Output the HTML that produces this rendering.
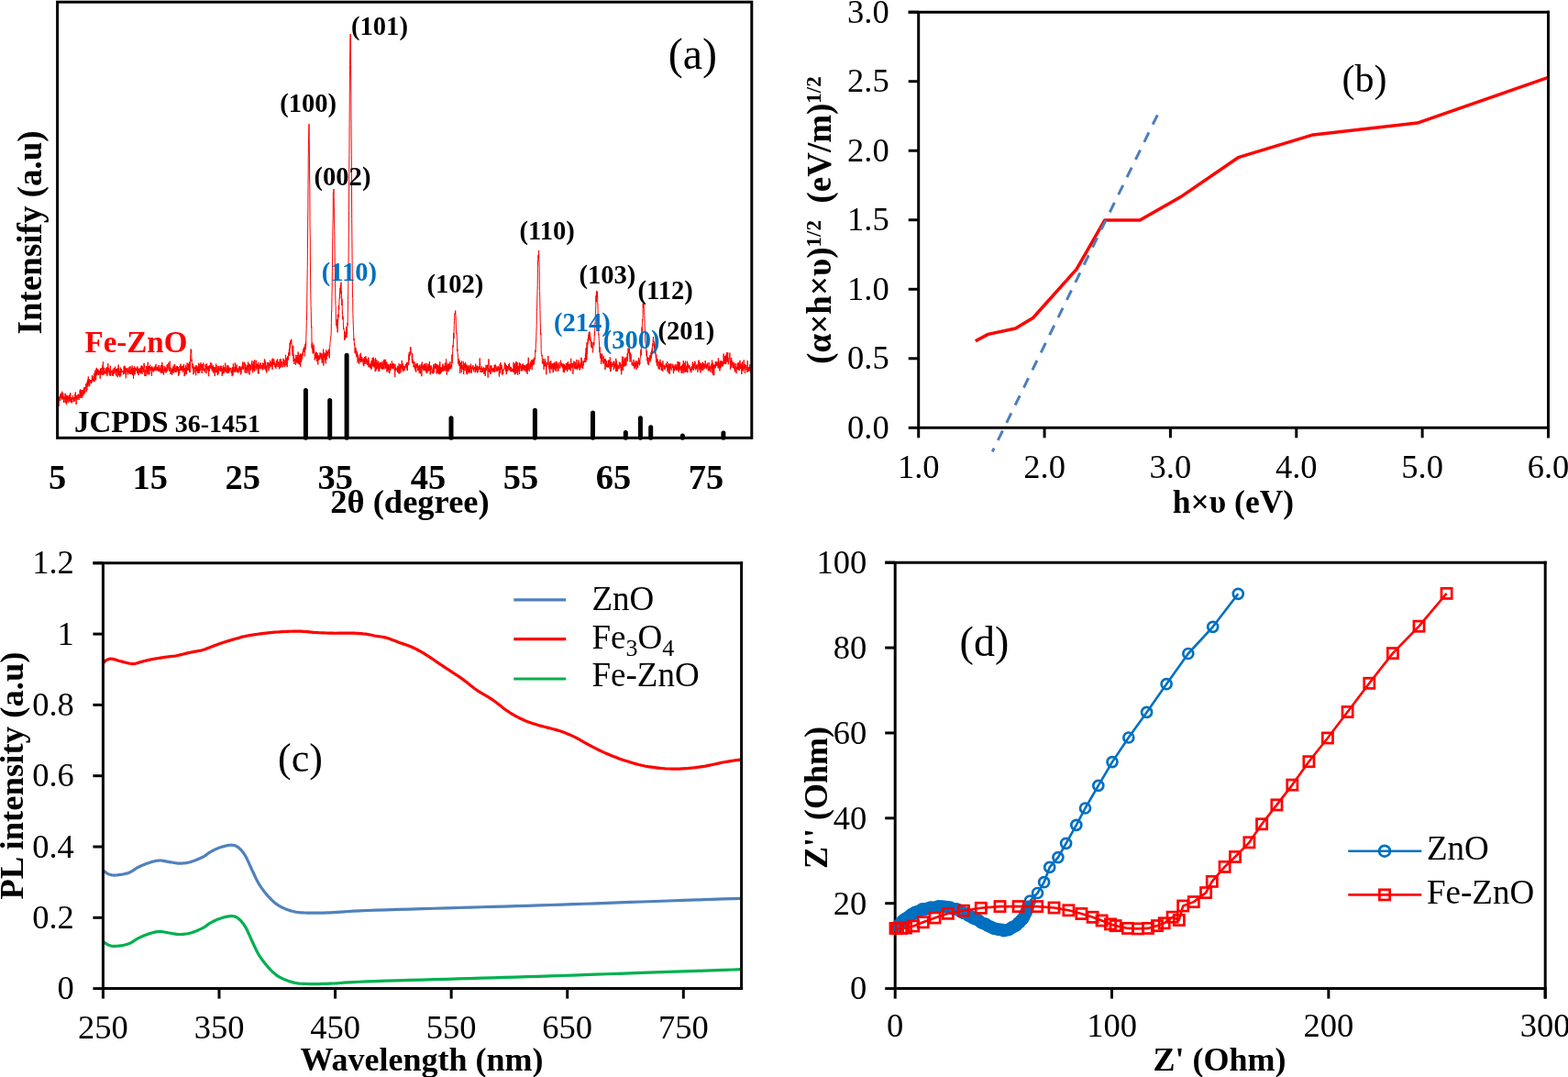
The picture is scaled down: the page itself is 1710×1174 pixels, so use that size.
<!DOCTYPE html>
<html><head><meta charset="utf-8"><title>Fe-ZnO characterization</title>
<style>html,body{margin:0;padding:0;background:#fff;overflow:hidden}svg{display:block}text{font-family:"Liberation Serif","Times New Roman",serif}</style>
</head><body>
<svg width="1710" height="1174" viewBox="0 0 1710 1174">
<rect width="1710" height="1174" fill="#fff"/>
<polyline points="62.60,434.97 62.80,435.92 63.00,434.07 63.20,432.09 63.40,433.48 63.60,431.75 63.80,435.12 64.00,442.84 64.19,433.34 64.39,432.92 64.59,436.48 64.79,436.05 64.99,435.23 65.19,431.90 65.39,434.79 65.59,437.11 65.79,430.56 65.99,433.40 66.19,428.76 66.39,430.72 66.59,428.94 66.79,434.09 66.98,430.77 67.18,435.70 67.38,435.33 67.58,434.22 67.78,426.74 67.98,433.08 68.18,434.65 68.38,435.16 68.58,429.88 68.78,428.56 68.98,431.64 69.18,432.18 69.38,438.18 69.58,432.18 69.78,439.06 69.97,437.59 70.17,432.88 70.37,434.39 70.57,435.09 70.77,434.94 70.97,430.80 71.17,428.75 71.37,439.08 71.57,429.75 71.77,437.46 71.97,435.08 72.17,432.64 72.37,441.11 72.57,437.13 72.77,430.83 72.96,434.91 73.16,436.52 73.36,434.06 73.56,431.53 73.76,434.44 73.96,436.79 74.16,439.26 74.36,432.47 74.56,435.28 74.76,433.14 74.96,435.03 75.16,430.80 75.36,432.75 75.56,433.97 75.75,437.48 75.95,438.27 76.15,430.34 76.35,432.03 76.55,436.65 76.75,428.17 76.95,433.07 77.15,434.24 77.35,438.59 77.55,436.76 77.75,433.49 77.95,433.35 78.15,433.73 78.35,439.41 78.55,433.14 78.74,433.54 78.94,435.64 79.14,434.11 79.34,433.86 79.54,430.91 79.74,434.45 79.94,433.05 80.14,438.18 80.34,436.49 80.54,434.26 80.74,436.44 80.94,433.15 81.14,437.57 81.34,434.12 81.53,435.96 81.73,429.90 81.93,435.11 82.13,428.52 82.33,427.36 82.53,432.87 82.73,430.90 82.93,434.27 83.13,440.90 83.33,430.97 83.53,431.59 83.73,434.20 83.93,435.08 84.13,432.88 84.33,432.73 84.52,435.60 84.72,434.96 84.92,429.93 85.12,432.94 85.32,433.26 85.52,429.71 85.72,433.88 85.92,430.24 86.12,435.98 86.32,433.28 86.52,432.74 86.72,430.36 86.92,431.68 87.12,425.45 87.32,428.03 87.51,432.63 87.71,424.43 87.91,433.78 88.11,425.26 88.31,433.09 88.51,427.75 88.71,432.77 88.91,430.49 89.11,424.93 89.31,433.68 89.51,434.10 89.71,429.06 89.91,428.19 90.11,428.29 90.30,425.34 90.50,431.66 90.70,426.06 90.90,427.31 91.10,424.59 91.30,424.80 91.50,422.37 91.70,430.18 91.90,425.31 92.10,428.58 92.30,425.19 92.50,422.58 92.70,423.43 92.90,422.35 93.10,423.84 93.29,422.28 93.49,422.19 93.69,418.39 93.89,419.90 94.09,427.46 94.29,419.67 94.49,418.11 94.69,422.24 94.89,425.34 95.09,415.83 95.29,419.49 95.49,417.80 95.69,413.84 95.89,421.52 96.09,418.79 96.28,410.51 96.48,415.95 96.68,419.58 96.88,416.14 97.08,417.16 97.28,413.81 97.48,413.22 97.68,421.16 97.88,415.00 98.08,417.31 98.28,416.02 98.48,414.46 98.68,414.00 98.88,417.40 99.07,414.08 99.27,414.39 99.47,414.70 99.67,418.16 99.87,416.32 100.07,415.11 100.27,411.83 100.47,408.95 100.67,416.18 100.87,415.99 101.07,412.19 101.27,414.13 101.47,414.65 101.67,414.56 101.87,414.60 102.06,409.93 102.26,416.01 102.46,406.89 102.66,413.41 102.86,411.98 103.06,412.95 103.26,415.93 103.46,414.41 103.66,405.72 103.86,403.73 104.06,411.57 104.26,405.58 104.46,408.70 104.66,414.27 104.85,403.27 105.05,401.67 105.25,409.18 105.45,400.86 105.65,407.36 105.85,408.17 106.05,405.18 106.25,402.99 106.45,407.21 106.65,404.53 106.85,402.27 107.05,409.07 107.25,407.15 107.45,408.55 107.65,403.97 107.84,404.94 108.04,403.74 108.24,404.00 108.44,407.38 108.64,404.14 108.84,407.69 109.04,407.54 109.24,412.85 109.44,401.78 109.64,409.00 109.84,405.76 110.04,405.91 110.24,401.20 110.44,404.28 110.64,408.04 110.83,405.29 111.03,405.71 111.23,404.42 111.43,408.96 111.63,405.09 111.83,397.99 112.03,402.73 112.23,398.53 112.43,394.32 112.63,402.95 112.83,408.84 113.03,404.62 113.23,400.71 113.43,401.46 113.62,408.11 113.82,404.99 114.02,404.65 114.22,404.32 114.42,404.62 114.62,407.09 114.82,406.28 115.02,405.20 115.22,401.17 115.42,406.16 115.62,402.33 115.82,408.04 116.02,405.61 116.22,404.09 116.42,404.52 116.61,400.29 116.81,410.08 117.01,409.24 117.21,403.07 117.41,407.04 117.61,405.78 117.81,396.18 118.01,405.38 118.21,404.38 118.41,404.85 118.61,401.13 118.81,403.72 119.01,404.02 119.21,408.41 119.40,405.68 119.60,404.59 119.80,409.52 120.00,402.83 120.20,403.37 120.40,398.79 120.60,409.67 120.80,407.73 121.00,407.58 121.20,406.79 121.40,405.00 121.60,405.34 121.80,403.84 122.00,404.00 122.20,404.83 122.39,409.52 122.59,406.45 122.79,404.48 122.99,402.82 123.19,402.64 123.39,409.83 123.59,406.32 123.79,404.91 123.99,403.58 124.19,401.14 124.39,404.49 124.59,407.51 124.79,403.45 124.99,403.99 125.19,404.01 125.38,405.08 125.58,399.61 125.78,403.98 125.98,401.99 126.18,407.58 126.38,402.27 126.58,406.60 126.78,409.65 126.98,403.75 127.18,402.83 127.38,405.38 127.58,404.76 127.78,401.58 127.98,406.26 128.17,411.26 128.37,403.96 128.57,404.14 128.77,401.44 128.97,405.82 129.17,397.54 129.37,401.25 129.57,408.92 129.77,401.91 129.97,408.29 130.17,409.72 130.37,405.66 130.57,406.61 130.77,411.11 130.97,404.21 131.16,405.97 131.36,400.50 131.56,404.99 131.76,409.61 131.96,407.94 132.16,402.98 132.36,402.12 132.56,403.25 132.76,405.82 132.96,404.22 133.16,405.57 133.36,405.84 133.56,403.93 133.76,404.77 133.95,405.56 134.15,404.64 134.35,406.53 134.55,408.27 134.75,406.82 134.95,405.10 135.15,399.51 135.35,406.18 135.55,398.68 135.75,400.41 135.95,407.69 136.15,407.21 136.35,404.47 136.55,399.46 136.75,403.77 136.94,402.78 137.14,407.00 137.34,412.20 137.54,405.64 137.74,402.43 137.94,401.16 138.14,404.73 138.34,404.34 138.54,401.20 138.74,405.26 138.94,401.18 139.14,408.44 139.34,408.28 139.54,408.34 139.74,403.32 139.93,406.49 140.13,404.40 140.33,403.57 140.53,403.72 140.73,400.63 140.93,400.16 141.13,407.34 141.33,404.16 141.53,405.46 141.73,407.98 141.93,399.18 142.13,402.22 142.33,405.30 142.53,405.98 142.72,403.51 142.92,408.01 143.12,405.38 143.32,400.79 143.52,401.69 143.72,407.26 143.92,406.15 144.12,398.56 144.32,408.98 144.52,406.56 144.72,408.95 144.92,403.39 145.12,403.66 145.32,400.99 145.52,412.75 145.71,404.02 145.91,409.68 146.11,402.49 146.31,405.09 146.51,399.18 146.71,403.31 146.91,407.70 147.11,400.51 147.31,407.96 147.51,405.59 147.71,401.15 147.91,402.88 148.11,403.01 148.31,404.32 148.51,402.74 148.70,401.80 148.90,403.47 149.10,401.14 149.30,400.29 149.50,404.27 149.70,407.25 149.90,399.49 150.10,404.41 150.30,402.30 150.50,401.24 150.70,407.11 150.90,402.70 151.10,409.17 151.30,401.84 151.49,405.58 151.69,403.60 151.89,401.90 152.09,406.20 152.29,403.81 152.49,406.23 152.69,404.13 152.89,400.79 153.09,403.94 153.29,404.43 153.49,407.33 153.69,401.33 153.89,404.11 154.09,398.69 154.29,406.31 154.48,400.73 154.68,398.40 154.88,404.00 155.08,407.74 155.28,399.28 155.48,400.67 155.68,401.77 155.88,400.52 156.08,402.33 156.28,401.54 156.48,401.80 156.68,405.99 156.88,401.68 157.08,395.76 157.27,400.97 157.47,400.18 157.67,398.17 157.87,410.04 158.07,403.02 158.27,404.83 158.47,403.94 158.67,404.54 158.87,404.18 159.07,410.14 159.27,400.66 159.47,398.99 159.67,400.73 159.87,399.69 160.07,406.37 160.26,406.59 160.46,400.86 160.66,399.47 160.86,402.79 161.06,408.39 161.26,394.85 161.46,405.60 161.66,400.44 161.86,407.23 162.06,400.42 162.26,402.95 162.46,399.02 162.66,400.71 162.86,408.30 163.06,406.47 163.25,402.54 163.45,401.02 163.65,397.73 163.85,402.54 164.05,403.69 164.25,403.52 164.45,403.48 164.65,400.16 164.85,403.55 165.05,403.63 165.25,407.89 165.45,409.73 165.65,399.28 165.85,401.25 166.04,403.50 166.24,401.75 166.44,401.30 166.64,403.49 166.84,400.32 167.04,405.61 167.24,403.32 167.44,404.45 167.64,403.05 167.84,401.29 168.04,400.57 168.24,402.85 168.44,401.84 168.64,404.35 168.84,403.57 169.03,399.20 169.23,403.79 169.43,399.24 169.63,401.57 169.83,402.60 170.03,396.86 170.23,403.82 170.43,404.00 170.63,403.00 170.83,402.14 171.03,402.29 171.23,400.34 171.43,402.61 171.63,401.69 171.82,403.75 172.02,399.58 172.22,404.19 172.42,403.88 172.62,402.95 172.82,401.98 173.02,405.16 173.22,398.02 173.42,404.84 173.62,404.12 173.82,404.24 174.02,404.55 174.22,401.20 174.42,402.46 174.62,405.33 174.81,404.65 175.01,403.92 175.21,398.37 175.41,404.95 175.61,406.97 175.81,406.44 176.01,403.94 176.21,398.17 176.41,406.19 176.61,402.67 176.81,394.99 177.01,404.33 177.21,398.31 177.41,398.93 177.61,401.04 177.80,407.16 178.00,401.86 178.20,403.91 178.40,408.65 178.60,408.14 178.80,402.67 179.00,402.21 179.20,398.92 179.40,400.73 179.60,404.32 179.80,404.21 180.00,403.28 180.20,406.11 180.40,400.41 180.59,402.70 180.79,405.22 180.99,404.74 181.19,406.29 181.39,404.11 181.59,401.82 181.79,403.97 181.99,399.57 182.19,397.51 182.39,404.63 182.59,402.58 182.79,403.73 182.99,397.27 183.19,401.54 183.39,400.77 183.58,399.91 183.78,395.42 183.98,401.58 184.18,401.11 184.38,403.86 184.58,400.69 184.78,402.56 184.98,405.03 185.18,393.71 185.38,402.17 185.58,404.30 185.78,404.74 185.98,408.00 186.18,406.17 186.37,403.51 186.57,403.46 186.77,405.01 186.97,400.73 187.17,402.32 187.37,405.35 187.57,408.72 187.77,401.90 187.97,402.24 188.17,403.02 188.37,406.69 188.57,402.26 188.77,407.07 188.97,399.22 189.17,401.72 189.36,401.67 189.56,404.82 189.76,405.64 189.96,397.41 190.16,399.31 190.36,403.32 190.56,400.11 190.76,397.32 190.96,405.54 191.16,403.78 191.36,403.76 191.56,400.63 191.76,405.46 191.96,401.36 192.16,405.65 192.35,399.18 192.55,399.35 192.75,402.74 192.95,399.81 193.15,404.23 193.35,402.88 193.55,399.06 193.75,402.25 193.95,400.87 194.15,404.94 194.35,399.94 194.55,409.80 194.75,405.85 194.95,409.14 195.14,408.36 195.34,402.14 195.54,402.64 195.74,406.87 195.94,401.53 196.14,398.79 196.34,402.31 196.54,403.39 196.74,399.27 196.94,396.64 197.14,397.31 197.34,404.07 197.54,399.49 197.74,401.48 197.94,402.62 198.13,403.92 198.33,400.86 198.53,403.54 198.73,399.07 198.93,400.77 199.13,398.64 199.33,405.57 199.53,401.84 199.73,399.55 199.93,400.80 200.13,401.22 200.33,404.18 200.53,396.80 200.73,398.59 200.93,400.71 201.12,410.08 201.32,405.00 201.52,401.57 201.72,404.22 201.92,408.55 202.12,401.18 202.32,406.46 202.52,398.01 202.72,403.52 202.92,404.09 203.12,400.29 203.32,408.12 203.52,407.43 203.72,403.75 203.91,404.13 204.11,395.41 204.31,403.98 204.51,401.30 204.71,403.32 204.91,404.12 205.11,400.83 205.31,396.49 205.51,403.11 205.71,399.54 205.91,400.86 206.11,399.98 206.31,400.82 206.51,394.46 206.71,405.74 206.90,402.36 207.10,404.48 207.30,405.89 207.50,396.74 207.70,386.63 207.90,385.19 208.10,380.40 208.30,381.40 208.50,384.85 208.70,381.37 208.90,393.89 209.10,391.59 209.30,400.33 209.50,400.49 209.69,400.52 209.89,401.57 210.09,400.15 210.29,399.94 210.49,396.50 210.69,401.83 210.89,407.86 211.09,408.29 211.29,406.17 211.49,404.19 211.69,399.74 211.89,406.56 212.09,401.74 212.29,401.70 212.49,400.98 212.68,402.22 212.88,400.52 213.08,401.65 213.28,398.43 213.48,400.72 213.68,409.26 213.88,401.69 214.08,401.15 214.28,403.63 214.48,404.20 214.68,398.33 214.88,401.25 215.08,404.87 215.28,402.78 215.48,402.31 215.67,406.92 215.87,399.73 216.07,402.18 216.27,400.24 216.47,406.71 216.67,395.63 216.87,399.76 217.07,400.21 217.27,404.05 217.47,403.87 217.67,406.40 217.87,396.85 218.07,404.33 218.27,400.97 218.46,399.77 218.66,403.65 218.86,398.95 219.06,395.23 219.26,400.72 219.46,397.09 219.66,399.82 219.86,403.11 220.06,402.91 220.26,407.02 220.46,401.27 220.66,396.97 220.86,399.48 221.06,398.95 221.26,397.99 221.45,403.31 221.65,399.83 221.85,395.54 222.05,404.15 222.25,401.55 222.45,403.06 222.65,402.25 222.85,403.94 223.05,402.03 223.25,405.89 223.45,403.27 223.65,403.17 223.85,403.22 224.05,397.22 224.24,401.37 224.44,401.07 224.64,402.57 224.84,397.53 225.04,407.17 225.24,402.24 225.44,398.00 225.64,396.40 225.84,401.00 226.04,401.61 226.24,399.59 226.44,402.20 226.64,399.84 226.84,403.68 227.04,399.57 227.23,401.78 227.43,405.05 227.63,410.18 227.83,398.65 228.03,400.40 228.23,399.19 228.43,404.42 228.63,398.20 228.83,400.34 229.03,401.80 229.23,398.75 229.43,398.81 229.63,400.36 229.83,395.13 230.03,397.24 230.22,400.57 230.42,402.39 230.62,401.32 230.82,396.22 231.02,400.44 231.22,404.52 231.42,403.74 231.62,401.71 231.82,399.11 232.02,404.01 232.22,400.12 232.42,398.23 232.62,399.42 232.82,406.67 233.01,402.73 233.21,405.76 233.41,400.49 233.61,405.06 233.81,400.11 234.01,401.55 234.21,410.07 234.41,404.54 234.61,400.47 234.81,401.81 235.01,403.15 235.21,406.00 235.41,400.54 235.61,396.51 235.81,401.23 236.00,402.19 236.20,402.50 236.40,406.39 236.60,403.18 236.80,404.79 237.00,398.63 237.20,404.98 237.40,408.94 237.60,404.69 237.80,407.52 238.00,402.71 238.20,407.98 238.40,399.24 238.60,401.88 238.79,403.73 238.99,404.65 239.19,400.85 239.39,403.26 239.59,401.38 239.79,402.67 239.99,401.87 240.19,398.62 240.39,402.24 240.59,405.14 240.79,399.21 240.99,401.56 241.19,404.48 241.39,398.90 241.59,402.95 241.78,398.95 241.98,406.03 242.18,409.83 242.38,408.91 242.58,401.69 242.78,404.79 242.98,402.80 243.18,402.75 243.38,407.42 243.58,398.18 243.78,405.84 243.98,402.29 244.18,407.00 244.38,403.07 244.58,400.31 244.77,403.38 244.97,404.86 245.17,403.82 245.37,404.08 245.57,400.83 245.77,395.64 245.97,405.43 246.17,404.79 246.37,403.02 246.57,402.77 246.77,405.90 246.97,401.09 247.17,400.30 247.37,401.98 247.56,406.43 247.76,398.13 247.96,406.45 248.16,400.55 248.36,399.07 248.56,406.69 248.76,402.33 248.96,398.45 249.16,401.50 249.36,405.66 249.56,406.51 249.76,401.30 249.96,404.00 250.16,405.00 250.36,400.62 250.55,403.85 250.75,402.61 250.95,400.99 251.15,401.14 251.35,402.96 251.55,402.84 251.75,400.93 251.95,401.39 252.15,406.36 252.35,403.47 252.55,405.64 252.75,406.67 252.95,404.70 253.15,410.13 253.35,400.15 253.54,405.43 253.74,401.81 253.94,408.82 254.14,408.31 254.34,396.50 254.54,399.65 254.74,404.90 254.94,405.28 255.14,405.08 255.34,402.45 255.54,404.13 255.74,404.74 255.94,400.15 256.14,405.90 256.33,395.27 256.53,404.59 256.73,399.18 256.93,405.59 257.13,401.73 257.33,399.58 257.53,403.63 257.73,399.46 257.93,399.43 258.13,397.29 258.33,402.24 258.53,403.91 258.73,405.58 258.93,401.80 259.13,405.61 259.32,402.27 259.52,401.88 259.72,406.59 259.92,405.55 260.12,401.01 260.32,401.30 260.52,401.55 260.72,402.31 260.92,399.11 261.12,405.31 261.32,400.68 261.52,403.44 261.72,399.26 261.92,403.06 262.11,403.14 262.31,400.49 262.51,408.35 262.71,403.00 262.91,407.52 263.11,404.85 263.31,399.59 263.51,400.47 263.71,403.09 263.91,401.86 264.11,401.80 264.31,400.69 264.51,395.75 264.71,400.84 264.91,394.38 265.10,402.72 265.30,399.15 265.50,399.16 265.70,400.74 265.90,402.30 266.10,396.77 266.30,395.73 266.50,397.91 266.70,394.73 266.90,398.18 267.10,406.41 267.30,402.29 267.50,403.33 267.70,396.77 267.90,402.15 268.09,400.12 268.29,400.94 268.49,402.95 268.69,406.76 268.89,401.69 269.09,401.44 269.29,397.87 269.49,402.87 269.69,400.17 269.89,403.63 270.09,400.77 270.29,406.52 270.49,394.46 270.69,399.88 270.88,403.67 271.08,399.66 271.28,398.21 271.48,399.89 271.68,396.26 271.88,401.08 272.08,408.56 272.28,404.35 272.48,397.04 272.68,397.78 272.88,399.27 273.08,403.80 273.28,397.87 273.48,398.27 273.68,403.34 273.87,403.25 274.07,399.22 274.27,396.79 274.47,395.37 274.67,398.10 274.87,393.12 275.07,402.73 275.27,398.25 275.47,401.82 275.67,406.28 275.87,404.00 276.07,396.46 276.27,402.97 276.47,403.88 276.66,397.70 276.86,393.72 277.06,399.71 277.26,394.86 277.46,404.77 277.66,392.21 277.86,396.39 278.06,399.07 278.26,399.18 278.46,400.43 278.66,400.74 278.86,399.15 279.06,403.49 279.26,392.87 279.46,399.77 279.65,397.43 279.85,400.15 280.05,400.41 280.25,396.72 280.45,397.58 280.65,402.19 280.85,400.74 281.05,397.38 281.25,406.16 281.45,407.01 281.65,394.79 281.85,400.47 282.05,407.60 282.25,401.99 282.45,400.15 282.64,398.74 282.84,397.64 283.04,398.68 283.24,397.56 283.44,401.73 283.64,398.01 283.84,397.85 284.04,395.36 284.24,399.07 284.44,396.32 284.64,398.60 284.84,402.54 285.04,400.33 285.24,400.76 285.43,400.25 285.63,399.27 285.83,398.64 286.03,398.03 286.23,401.47 286.43,395.47 286.63,403.31 286.83,399.05 287.03,396.49 287.23,397.31 287.43,396.68 287.63,399.37 287.83,396.50 288.03,402.51 288.23,396.25 288.42,391.40 288.62,396.37 288.82,392.20 289.02,398.56 289.22,402.10 289.42,400.74 289.62,394.29 289.82,396.13 290.02,404.34 290.22,399.58 290.42,398.54 290.62,401.93 290.82,406.43 291.02,402.66 291.22,398.89 291.41,399.56 291.61,400.39 291.81,396.38 292.01,394.91 292.21,398.49 292.41,395.22 292.61,398.07 292.81,398.56 293.01,404.21 293.21,395.44 293.41,397.78 293.61,397.62 293.81,399.54 294.01,401.50 294.20,396.48 294.40,395.39 294.60,392.70 294.80,395.00 295.00,399.72 295.20,398.10 295.40,394.63 295.60,396.69 295.80,397.98 296.00,399.49 296.20,395.90 296.40,396.99 296.60,391.87 296.80,394.01 297.00,402.98 297.19,390.59 297.39,396.58 297.59,398.36 297.79,396.41 297.99,394.97 298.19,397.37 298.39,397.53 298.59,397.25 298.79,391.39 298.99,396.99 299.19,394.66 299.39,395.63 299.59,398.12 299.79,399.44 299.98,400.25 300.18,395.69 300.38,400.28 300.58,401.06 300.78,400.92 300.98,401.71 301.18,396.69 301.38,396.56 301.58,399.79 301.78,392.62 301.98,397.73 302.18,395.29 302.38,395.78 302.58,391.28 302.78,394.02 302.97,397.73 303.17,399.76 303.37,400.06 303.57,396.54 303.77,396.15 303.97,394.03 304.17,398.01 304.37,395.86 304.57,398.61 304.77,402.31 304.97,396.46 305.17,391.65 305.37,393.69 305.57,391.70 305.77,392.52 305.96,400.65 306.16,397.09 306.36,391.35 306.56,398.41 306.76,400.35 306.96,395.02 307.16,393.94 307.36,395.01 307.56,397.00 307.76,398.12 307.96,399.85 308.16,399.90 308.36,399.77 308.56,400.30 308.75,397.96 308.95,390.73 309.15,395.26 309.35,396.67 309.55,394.33 309.75,398.51 309.95,394.29 310.15,392.37 310.35,400.08 310.55,397.46 310.75,395.93 310.95,398.18 311.15,398.55 311.35,396.09 311.55,386.80 311.74,392.55 311.94,393.16 312.14,391.29 312.34,395.04 312.54,398.14 312.74,392.39 312.94,389.97 313.14,400.15 313.34,391.55 313.54,388.49 313.74,392.84 313.94,392.82 314.14,388.26 314.34,392.39 314.53,387.04 314.73,384.38 314.93,386.80 315.13,387.38 315.33,380.99 315.53,382.64 315.73,379.43 315.93,387.80 316.13,373.75 316.33,379.38 316.53,372.83 316.73,371.30 316.93,373.37 317.13,373.50 317.33,374.84 317.52,372.04 317.72,369.70 317.92,371.19 318.12,376.34 318.32,378.21 318.52,382.72 318.72,380.99 318.92,384.84 319.12,387.95 319.32,384.76 319.52,380.46 319.72,376.79 319.92,382.90 320.12,394.05 320.32,386.63 320.51,394.27 320.71,392.65 320.91,396.87 321.11,394.84 321.31,391.43 321.51,392.37 321.71,392.44 321.91,392.86 322.11,390.60 322.31,392.32 322.51,397.81 322.71,386.84 322.91,393.36 323.11,389.49 323.30,393.11 323.50,395.26 323.70,392.26 323.90,394.99 324.10,387.10 324.30,396.02 324.50,390.29 324.70,394.31 324.90,392.79 325.10,383.52 325.30,389.53 325.50,392.71 325.70,397.07 325.90,392.77 326.10,392.58 326.29,386.91 326.49,396.29 326.69,397.43 326.89,391.38 327.09,390.43 327.29,385.62 327.49,393.84 327.69,399.78 327.89,392.98 328.09,394.64 328.29,392.04 328.49,386.73 328.69,394.32 328.89,385.46 329.08,388.67 329.28,390.07 329.48,391.85 329.68,390.00 329.88,389.08 330.08,385.40 330.28,383.27 330.48,387.47 330.68,380.37 330.88,382.00 331.08,381.68 331.28,383.83 331.48,378.64 331.68,379.78 331.88,378.16 332.07,383.69 332.27,383.70 332.47,388.35 332.67,375.28 332.87,376.95 333.07,381.09 333.27,375.46 333.47,372.91 333.67,377.27 333.87,366.40 334.07,358.64 334.27,351.68 334.47,349.44 334.67,338.88 334.87,319.60 335.06,305.22 335.26,292.50 335.46,271.70 335.66,243.97 335.86,225.19 336.06,201.49 336.26,170.17 336.46,158.42 336.66,149.15 336.86,139.60 337.06,135.20 337.26,152.54 337.46,172.54 337.66,196.12 337.85,203.58 338.05,246.82 338.25,255.29 338.45,285.30 338.65,305.87 338.85,321.75 339.05,332.73 339.25,339.39 339.45,354.99 339.65,357.21 339.85,356.19 340.05,379.23 340.25,374.82 340.45,381.06 340.65,373.38 340.84,383.11 341.04,384.73 341.24,385.61 341.44,381.05 341.64,377.76 341.84,381.98 342.04,375.67 342.24,377.96 342.44,384.61 342.64,381.39 342.84,384.65 343.04,385.25 343.24,392.55 343.44,390.74 343.64,386.50 343.83,391.04 344.03,384.59 344.23,386.34 344.43,390.79 344.63,383.74 344.83,387.20 345.03,383.87 345.23,388.89 345.43,394.15 345.63,386.28 345.83,389.71 346.03,386.06 346.23,385.34 346.43,385.16 346.62,394.29 346.82,397.42 347.02,391.20 347.22,387.26 347.42,392.09 347.62,388.67 347.82,392.53 348.02,390.87 348.22,390.88 348.42,392.01 348.62,388.08 348.82,388.69 349.02,384.31 349.22,388.61 349.42,385.34 349.61,389.62 349.81,386.91 350.01,390.44 350.21,391.63 350.41,385.37 350.61,387.39 350.81,386.95 351.01,392.58 351.21,395.77 351.41,392.90 351.61,388.85 351.81,394.89 352.01,384.89 352.21,394.92 352.40,387.67 352.60,380.50 352.80,398.62 353.00,394.96 353.20,386.15 353.40,390.10 353.60,388.73 353.80,389.69 354.00,384.28 354.20,386.86 354.40,385.60 354.60,389.65 354.80,392.79 355.00,388.89 355.20,396.37 355.39,385.89 355.59,388.99 355.79,381.47 355.99,383.50 356.19,391.99 356.39,384.08 356.59,388.81 356.79,388.32 356.99,382.91 357.19,384.96 357.39,384.06 357.59,383.79 357.79,387.63 357.99,386.87 358.19,382.23 358.38,380.62 358.58,384.16 358.78,382.28 358.98,385.52 359.18,390.43 359.38,383.42 359.58,379.50 359.78,377.98 359.98,374.34 360.18,372.61 360.38,370.31 360.58,369.94 360.78,366.62 360.98,366.64 361.17,362.77 361.37,351.32 361.57,339.28 361.77,339.74 361.97,323.61 362.17,314.77 362.37,295.75 362.57,282.06 362.77,258.36 362.97,245.69 363.17,238.67 363.37,210.41 363.57,211.60 363.77,209.90 363.97,206.00 364.16,213.66 364.36,226.15 364.56,231.78 364.76,251.45 364.96,262.36 365.16,278.97 365.36,296.27 365.56,309.29 365.76,321.97 365.96,332.77 366.16,333.46 366.36,352.18 366.56,353.48 366.76,354.93 366.95,352.85 367.15,354.85 367.35,357.48 367.55,356.65 367.75,348.12 367.95,355.88 368.15,362.42 368.35,342.91 368.55,351.44 368.75,346.84 368.95,342.59 369.15,345.58 369.35,333.22 369.55,335.52 369.75,337.64 369.94,328.50 370.14,324.90 370.34,324.32 370.54,319.76 370.74,325.34 370.94,314.15 371.14,319.82 371.34,310.96 371.54,318.40 371.74,316.03 371.94,307.69 372.14,319.44 372.34,317.59 372.54,322.56 372.74,332.99 372.93,325.81 373.13,329.12 373.33,341.72 373.53,339.78 373.73,348.17 373.93,346.50 374.13,344.77 374.33,350.47 374.53,357.75 374.73,358.95 374.93,357.55 375.13,359.61 375.33,360.69 375.53,360.45 375.72,370.90 375.92,364.92 376.12,361.63 376.32,364.70 376.52,369.57 376.72,369.57 376.92,366.88 377.12,364.91 377.32,367.20 377.52,360.60 377.72,355.95 377.92,368.04 378.12,362.10 378.32,363.49 378.52,364.24 378.71,358.96 378.91,352.31 379.11,354.41 379.31,341.26 379.51,327.33 379.71,318.66 379.91,301.33 380.11,276.70 380.31,257.20 380.51,229.55 380.71,192.36 380.91,168.30 381.11,135.57 381.31,103.78 381.50,70.57 381.70,54.16 381.90,41.31 382.10,37.21 382.30,37.00 382.50,59.88 382.70,80.00 382.90,107.05 383.10,145.23 383.30,169.22 383.50,201.96 383.70,238.44 383.90,259.42 384.10,283.30 384.30,305.24 384.49,324.80 384.69,325.53 384.89,341.19 385.09,348.61 385.29,354.55 385.49,360.17 385.69,363.91 385.89,370.91 386.09,368.89 386.29,374.38 386.49,376.93 386.69,374.23 386.89,378.47 387.09,384.86 387.29,381.14 387.48,378.62 387.68,381.44 387.88,379.18 388.08,384.04 388.28,386.75 388.48,381.46 388.68,385.15 388.88,389.29 389.08,384.17 389.28,387.02 389.48,383.24 389.68,384.37 389.88,385.82 390.08,395.34 390.27,386.93 390.47,386.85 390.67,387.06 390.87,388.70 391.07,391.75 391.27,390.45 391.47,396.99 391.67,391.04 391.87,395.42 392.07,391.71 392.27,393.03 392.47,386.36 392.67,390.98 392.87,391.36 393.07,390.97 393.26,384.76 393.46,395.07 393.66,391.00 393.86,390.99 394.06,391.75 394.26,391.99 394.46,394.25 394.66,388.80 394.86,390.07 395.06,394.27 395.26,393.91 395.46,392.30 395.66,391.76 395.86,391.02 396.06,393.71 396.25,397.93 396.45,390.61 396.65,399.27 396.85,397.12 397.05,392.92 397.25,397.11 397.45,389.76 397.65,388.97 397.85,390.53 398.05,393.53 398.25,393.90 398.45,393.35 398.65,395.47 398.85,388.17 399.04,396.94 399.24,390.69 399.44,393.27 399.64,394.17 399.84,391.79 400.04,391.15 400.24,392.42 400.44,395.76 400.64,397.80 400.84,397.77 401.04,392.70 401.24,396.82 401.44,393.05 401.64,397.62 401.84,389.48 402.03,400.31 402.23,394.70 402.43,393.77 402.63,397.51 402.83,399.84 403.03,397.62 403.23,400.00 403.43,397.03 403.63,400.67 403.83,400.76 404.03,396.39 404.23,401.49 404.43,397.35 404.63,397.14 404.82,393.87 405.02,402.67 405.22,399.53 405.42,392.71 405.62,399.19 405.82,398.24 406.02,398.05 406.22,389.95 406.42,396.88 406.62,399.38 406.82,394.79 407.02,397.63 407.22,389.58 407.42,399.60 407.62,395.27 407.81,400.33 408.01,391.48 408.21,399.81 408.41,396.81 408.61,400.26 408.81,394.62 409.01,395.66 409.21,405.05 409.41,395.04 409.61,390.27 409.81,396.92 410.01,394.51 410.21,401.78 410.41,403.55 410.61,395.65 410.80,392.34 411.00,401.84 411.20,401.66 411.40,400.76 411.60,401.88 411.80,395.30 412.00,397.62 412.20,393.68 412.40,393.60 412.60,401.46 412.80,396.09 413.00,404.93 413.20,398.59 413.40,396.29 413.59,401.01 413.79,404.31 413.99,400.05 414.19,394.52 414.39,399.73 414.59,399.59 414.79,396.97 414.99,396.08 415.19,401.94 415.39,399.11 415.59,395.09 415.79,397.47 415.99,396.28 416.19,399.73 416.39,399.15 416.58,402.57 416.78,401.16 416.98,393.78 417.18,400.23 417.38,401.85 417.58,400.44 417.78,402.33 417.98,397.21 418.18,395.93 418.38,402.08 418.58,395.61 418.78,392.07 418.98,402.47 419.18,391.78 419.37,398.19 419.57,394.66 419.77,394.92 419.97,395.49 420.17,398.11 420.37,400.51 420.57,391.85 420.77,401.80 420.97,395.53 421.17,395.93 421.37,401.63 421.57,399.21 421.77,394.48 421.97,405.50 422.17,396.72 422.36,400.35 422.56,400.22 422.76,404.19 422.96,398.14 423.16,402.92 423.36,397.25 423.56,403.34 423.76,397.23 423.96,398.56 424.16,405.92 424.36,400.81 424.56,400.16 424.76,407.11 424.96,401.02 425.16,397.22 425.35,402.28 425.55,396.07 425.75,403.60 425.95,403.88 426.15,398.12 426.35,397.96 426.55,400.60 426.75,400.09 426.95,396.89 427.15,401.94 427.35,393.47 427.55,398.72 427.75,398.84 427.95,399.29 428.14,401.19 428.34,396.22 428.54,402.15 428.74,399.67 428.94,398.17 429.14,395.86 429.34,396.47 429.54,401.51 429.74,397.23 429.94,400.59 430.14,403.84 430.34,403.75 430.54,405.47 430.74,410.86 430.94,396.89 431.13,403.74 431.33,401.43 431.53,404.09 431.73,400.47 431.93,404.33 432.13,403.20 432.33,402.78 432.53,402.09 432.73,401.76 432.93,401.22 433.13,401.21 433.33,403.69 433.53,398.81 433.73,406.13 433.92,400.14 434.12,403.69 434.32,400.20 434.52,399.69 434.72,407.10 434.92,399.49 435.12,396.34 435.32,398.18 435.52,399.47 435.72,407.51 435.92,401.17 436.12,403.54 436.32,397.24 436.52,401.64 436.72,402.68 436.91,406.36 437.11,403.57 437.31,402.45 437.51,401.47 437.71,397.15 437.91,400.41 438.11,399.61 438.31,392.88 438.51,402.40 438.71,402.20 438.91,399.00 439.11,396.05 439.31,405.23 439.51,401.26 439.71,403.69 439.90,404.96 440.10,398.64 440.30,402.97 440.50,399.51 440.70,400.06 440.90,399.96 441.10,400.20 441.30,403.80 441.50,400.52 441.70,399.56 441.90,399.09 442.10,401.03 442.30,396.88 442.50,398.05 442.69,399.39 442.89,397.53 443.09,398.80 443.29,396.93 443.49,395.01 443.69,402.70 443.89,399.38 444.09,397.22 444.29,404.15 444.49,397.28 444.69,395.18 444.89,395.68 445.09,394.80 445.29,397.58 445.49,391.70 445.68,397.84 445.88,386.53 446.08,390.79 446.28,383.84 446.48,392.48 446.68,384.06 446.88,384.13 447.08,386.83 447.28,387.47 447.48,378.97 447.68,381.61 447.88,378.20 448.08,384.00 448.28,383.86 448.48,383.86 448.67,383.70 448.87,385.81 449.07,385.71 449.27,391.24 449.47,395.75 449.67,385.12 449.87,392.35 450.07,392.33 450.27,396.33 450.47,392.32 450.67,395.78 450.87,393.48 451.07,399.86 451.27,398.39 451.46,400.43 451.66,400.11 451.86,398.39 452.06,394.35 452.26,401.66 452.46,400.84 452.66,399.55 452.86,403.42 453.06,404.30 453.26,396.82 453.46,397.93 453.66,405.62 453.86,405.26 454.06,398.26 454.26,396.87 454.45,398.69 454.65,399.19 454.85,395.69 455.05,400.99 455.25,396.75 455.45,397.01 455.65,403.98 455.85,398.79 456.05,400.81 456.25,403.12 456.45,403.75 456.65,400.03 456.85,401.29 457.05,398.48 457.24,406.88 457.44,403.33 457.64,397.64 457.84,401.26 458.04,403.59 458.24,402.85 458.44,407.25 458.64,405.78 458.84,399.59 459.04,401.07 459.24,397.21 459.44,402.20 459.64,401.89 459.84,410.20 460.04,401.75 460.23,394.64 460.43,399.26 460.63,401.81 460.83,397.38 461.03,398.64 461.23,400.28 461.43,402.58 461.63,400.94 461.83,398.59 462.03,404.04 462.23,399.74 462.43,399.87 462.63,397.02 462.83,398.95 463.03,403.62 463.22,396.26 463.42,401.28 463.62,403.84 463.82,400.29 464.02,402.30 464.22,397.90 464.42,405.78 464.62,405.10 464.82,402.29 465.02,395.84 465.22,398.14 465.42,404.70 465.62,407.09 465.82,402.50 466.01,405.58 466.21,399.57 466.41,400.93 466.61,401.55 466.81,402.91 467.01,396.58 467.21,404.59 467.41,402.65 467.61,397.82 467.81,403.66 468.01,402.68 468.21,399.42 468.41,393.86 468.61,404.17 468.81,402.05 469.00,400.00 469.20,408.40 469.40,401.99 469.60,399.10 469.80,401.87 470.00,398.17 470.20,399.07 470.40,402.79 470.60,399.74 470.80,400.07 471.00,406.95 471.20,404.32 471.40,404.14 471.60,403.25 471.79,403.10 471.99,406.25 472.19,401.46 472.39,407.54 472.59,398.43 472.79,400.69 472.99,397.04 473.19,400.86 473.39,403.19 473.59,406.22 473.79,399.35 473.99,401.52 474.19,400.33 474.39,399.10 474.59,396.62 474.78,401.68 474.98,395.86 475.18,401.84 475.38,401.54 475.58,399.33 475.78,398.18 475.98,396.96 476.18,407.53 476.38,397.09 476.58,406.50 476.78,403.39 476.98,400.25 477.18,397.67 477.38,404.81 477.58,407.03 477.77,398.37 477.97,400.43 478.17,404.81 478.37,402.48 478.57,407.88 478.77,399.51 478.97,403.12 479.17,397.28 479.37,408.16 479.57,398.96 479.77,394.14 479.97,400.90 480.17,400.85 480.37,407.52 480.56,400.18 480.76,401.23 480.96,403.19 481.16,406.41 481.36,401.02 481.56,404.60 481.76,402.89 481.96,400.22 482.16,401.42 482.36,401.25 482.56,398.15 482.76,405.08 482.96,396.58 483.16,404.90 483.36,404.17 483.55,400.74 483.75,398.52 483.95,400.26 484.15,402.51 484.35,403.37 484.55,401.86 484.75,404.13 484.95,399.04 485.15,401.60 485.35,395.67 485.55,403.27 485.75,401.23 485.95,399.34 486.15,404.46 486.34,402.88 486.54,391.35 486.74,400.66 486.94,395.71 487.14,403.93 487.34,408.54 487.54,398.62 487.74,400.51 487.94,399.37 488.14,401.28 488.34,402.18 488.54,404.22 488.74,396.65 488.94,405.00 489.14,396.66 489.33,400.54 489.53,403.35 489.73,401.77 489.93,396.19 490.13,396.84 490.33,397.49 490.53,398.69 490.73,402.49 490.93,394.21 491.13,399.83 491.33,400.06 491.53,399.60 491.73,398.95 491.93,402.06 492.13,398.12 492.32,398.74 492.52,397.01 492.72,400.24 492.92,386.59 493.12,396.01 493.32,389.07 493.52,386.98 493.72,382.23 493.92,376.34 494.12,378.38 494.32,373.81 494.52,374.18 494.72,363.09 494.92,369.26 495.11,360.82 495.31,354.76 495.51,349.18 495.71,345.47 495.91,341.43 496.11,341.65 496.31,342.71 496.51,342.08 496.71,338.60 496.91,345.77 497.11,345.41 497.31,352.75 497.51,362.87 497.71,362.54 497.91,363.44 498.10,362.99 498.30,367.82 498.50,370.68 498.70,382.61 498.90,380.49 499.10,386.07 499.30,386.04 499.50,390.47 499.70,396.58 499.90,390.85 500.10,393.14 500.30,392.50 500.50,398.90 500.70,393.13 500.90,393.28 501.09,392.84 501.29,393.13 501.49,399.68 501.69,406.90 501.89,395.28 502.09,401.93 502.29,399.78 502.49,395.46 502.69,398.34 502.89,398.62 503.09,397.24 503.29,406.01 503.49,393.46 503.69,401.10 503.88,401.04 504.08,398.13 504.28,400.61 504.48,403.09 504.68,400.78 504.88,401.72 505.08,402.69 505.28,393.81 505.48,405.39 505.68,408.07 505.88,403.87 506.08,404.03 506.28,396.15 506.48,400.42 506.68,398.20 506.87,398.98 507.07,404.10 507.27,398.35 507.47,400.60 507.67,394.82 507.87,400.58 508.07,401.42 508.27,401.05 508.47,398.84 508.67,407.38 508.87,397.31 509.07,397.85 509.27,398.67 509.47,405.24 509.66,408.21 509.86,402.47 510.06,399.23 510.26,400.04 510.46,404.92 510.66,398.51 510.86,406.23 511.06,406.13 511.26,401.77 511.46,403.66 511.66,404.02 511.86,406.65 512.06,398.20 512.26,405.47 512.46,400.43 512.65,399.17 512.85,402.02 513.05,401.00 513.25,398.51 513.45,396.54 513.65,398.68 513.85,406.48 514.05,406.89 514.25,403.90 514.45,405.65 514.65,400.14 514.85,401.58 515.05,402.76 515.25,398.34 515.45,398.65 515.64,402.19 515.84,400.85 516.04,398.45 516.24,403.17 516.44,401.07 516.64,405.25 516.84,401.93 517.04,400.98 517.24,402.38 517.44,401.42 517.64,399.82 517.84,400.70 518.04,404.44 518.24,404.11 518.43,406.20 518.63,396.55 518.83,400.77 519.03,400.71 519.23,402.62 519.43,400.61 519.63,400.42 519.83,404.63 520.03,402.68 520.23,398.33 520.43,406.44 520.63,405.36 520.83,400.28 521.03,404.84 521.23,399.77 521.42,405.81 521.62,401.46 521.82,399.58 522.02,400.98 522.22,399.71 522.42,402.82 522.62,402.78 522.82,402.33 523.02,400.42 523.22,390.38 523.42,402.54 523.62,396.11 523.82,403.04 524.02,405.92 524.21,403.15 524.41,401.01 524.61,401.70 524.81,401.86 525.01,400.52 525.21,400.41 525.41,399.32 525.61,406.16 525.81,402.27 526.01,405.42 526.21,401.53 526.41,402.58 526.61,401.80 526.81,403.85 527.01,405.04 527.20,402.35 527.40,400.20 527.60,399.86 527.80,407.76 528.00,401.49 528.20,401.46 528.40,407.15 528.60,405.93 528.80,404.15 529.00,401.13 529.20,410.04 529.40,403.71 529.60,404.21 529.80,401.90 530.00,397.88 530.19,398.14 530.39,403.78 530.59,403.74 530.79,401.70 530.99,398.69 531.19,397.83 531.39,401.44 531.59,397.79 531.79,405.41 531.99,406.24 532.19,411.67 532.39,405.37 532.59,400.61 532.79,399.72 532.98,391.38 533.18,400.62 533.38,401.98 533.58,405.69 533.78,404.54 533.98,404.47 534.18,403.26 534.38,404.72 534.58,407.27 534.78,399.15 534.98,401.12 535.18,398.11 535.38,407.84 535.58,406.80 535.78,405.05 535.97,398.74 536.17,403.19 536.37,401.87 536.57,402.90 536.77,402.03 536.97,404.33 537.17,401.37 537.37,405.42 537.57,403.44 537.77,401.72 537.97,402.31 538.17,401.25 538.37,405.31 538.57,401.81 538.76,403.64 538.96,401.43 539.16,397.90 539.36,405.63 539.56,399.29 539.76,404.91 539.96,404.08 540.16,397.36 540.36,399.65 540.56,401.03 540.76,400.03 540.96,398.85 541.16,405.05 541.36,401.87 541.56,403.89 541.75,401.24 541.95,403.61 542.15,400.18 542.35,402.51 542.55,404.47 542.75,402.72 542.95,401.09 543.15,399.04 543.35,403.09 543.55,403.65 543.75,401.69 543.95,400.02 544.15,404.26 544.35,410.52 544.55,401.50 544.74,403.56 544.94,403.68 545.14,397.03 545.34,402.84 545.54,400.14 545.74,406.89 545.94,395.17 546.14,399.88 546.34,401.67 546.54,402.91 546.74,400.55 546.94,402.18 547.14,397.96 547.34,401.60 547.53,404.82 547.73,408.68 547.93,404.58 548.13,403.16 548.33,406.10 548.53,405.56 548.73,407.63 548.93,405.74 549.13,401.84 549.33,403.05 549.53,402.78 549.73,403.17 549.93,402.83 550.13,399.63 550.33,395.35 550.52,399.97 550.72,395.57 550.92,402.34 551.12,402.12 551.32,396.67 551.52,404.31 551.72,404.88 551.92,402.37 552.12,407.45 552.32,408.10 552.52,398.12 552.72,405.37 552.92,403.43 553.12,403.34 553.32,405.00 553.51,399.63 553.71,400.03 553.91,399.26 554.11,399.48 554.31,401.59 554.51,397.20 554.71,398.50 554.91,403.75 555.11,401.63 555.31,403.09 555.51,395.71 555.71,399.28 555.91,400.01 556.11,401.90 556.30,399.88 556.50,404.79 556.70,401.57 556.90,401.80 557.10,401.77 557.30,404.01 557.50,400.17 557.70,405.33 557.90,403.17 558.10,402.16 558.30,401.78 558.50,403.32 558.70,404.91 558.90,404.67 559.10,402.81 559.29,404.42 559.49,401.95 559.69,405.61 559.89,401.45 560.09,394.77 560.29,405.85 560.49,401.85 560.69,397.69 560.89,400.84 561.09,398.60 561.29,408.28 561.49,403.06 561.69,396.35 561.89,403.20 562.08,400.12 562.28,407.63 562.48,397.97 562.68,394.08 562.88,401.58 563.08,400.23 563.28,399.99 563.48,394.38 563.68,402.71 563.88,406.75 564.08,395.09 564.28,405.09 564.48,399.42 564.68,408.89 564.88,402.66 565.07,400.62 565.27,404.81 565.47,402.91 565.67,399.26 565.87,403.48 566.07,399.49 566.27,395.32 566.47,407.74 566.67,399.97 566.87,399.11 567.07,401.49 567.27,395.98 567.47,396.63 567.67,399.40 567.87,399.31 568.06,401.22 568.26,404.63 568.46,399.40 568.66,402.54 568.86,402.87 569.06,397.35 569.26,401.61 569.46,397.77 569.66,404.29 569.86,402.29 570.06,400.83 570.26,396.38 570.46,401.11 570.66,398.20 570.85,402.98 571.05,400.26 571.25,397.97 571.45,403.62 571.65,402.92 571.85,398.60 572.05,404.31 572.25,399.50 572.45,399.43 572.65,400.81 572.85,397.91 573.05,398.89 573.25,399.77 573.45,405.27 573.65,405.13 573.84,399.33 574.04,405.42 574.24,397.15 574.44,401.29 574.64,402.90 574.84,400.91 575.04,407.83 575.24,400.64 575.44,395.85 575.64,404.02 575.84,398.31 576.04,398.61 576.24,389.69 576.44,402.77 576.63,402.10 576.83,401.96 577.03,402.47 577.23,404.74 577.43,403.18 577.63,402.08 577.83,396.43 578.03,397.62 578.23,402.18 578.43,399.87 578.63,394.04 578.83,399.53 579.03,397.59 579.23,395.34 579.43,399.36 579.62,396.41 579.82,392.37 580.02,393.72 580.22,403.12 580.42,391.98 580.62,397.56 580.82,398.63 581.02,398.48 581.22,391.98 581.42,394.72 581.62,395.95 581.82,397.83 582.02,392.59 582.22,390.41 582.42,397.23 582.61,397.01 582.81,393.85 583.01,389.71 583.21,392.16 583.41,389.91 583.61,390.85 583.81,381.71 584.01,383.98 584.21,379.99 584.41,372.91 584.61,373.04 584.81,366.99 585.01,359.03 585.21,354.66 585.40,339.80 585.60,335.83 585.80,328.04 586.00,317.56 586.20,310.67 586.40,292.45 586.60,282.69 586.80,282.41 587.00,278.19 587.20,282.05 587.40,276.13 587.60,272.90 587.80,284.49 588.00,285.09 588.20,291.15 588.39,316.31 588.59,317.48 588.79,328.86 588.99,337.87 589.19,351.44 589.39,354.01 589.59,364.67 589.79,362.96 589.99,367.11 590.19,381.60 590.39,385.47 590.59,385.13 590.79,386.58 590.99,388.32 591.18,386.94 591.38,395.78 591.58,393.77 591.78,394.06 591.98,394.28 592.18,397.11 592.38,395.75 592.58,396.97 592.78,390.91 592.98,396.88 593.18,402.80 593.38,394.01 593.58,395.57 593.78,399.21 593.98,399.65 594.17,398.74 594.37,391.45 594.57,398.69 594.77,393.24 594.97,394.60 595.17,399.30 595.37,396.64 595.57,400.43 595.77,408.30 595.97,400.55 596.17,400.48 596.37,395.22 596.57,396.16 596.77,394.86 596.97,396.70 597.16,394.93 597.36,396.43 597.56,397.99 597.76,387.99 597.96,394.14 598.16,394.39 598.36,400.43 598.56,399.19 598.76,402.42 598.96,402.53 599.16,398.02 599.36,401.39 599.56,394.49 599.76,406.76 599.95,403.23 600.15,398.63 600.35,395.55 600.55,400.64 600.75,393.29 600.95,396.89 601.15,401.93 601.35,399.74 601.55,397.91 601.75,402.65 601.95,396.15 602.15,400.50 602.35,397.96 602.55,396.83 602.75,401.13 602.94,396.38 603.14,405.86 603.34,397.74 603.54,406.17 603.74,396.10 603.94,401.67 604.14,395.78 604.34,395.32 604.54,400.23 604.74,401.93 604.94,395.56 605.14,403.60 605.34,397.13 605.54,400.17 605.74,400.98 605.93,401.69 606.13,393.89 606.33,405.03 606.53,401.59 606.73,398.37 606.93,396.42 607.13,394.24 607.33,395.32 607.53,401.54 607.73,398.65 607.93,396.07 608.13,398.04 608.33,404.86 608.53,398.68 608.72,397.85 608.92,404.15 609.12,401.26 609.32,399.89 609.52,397.77 609.72,394.69 609.92,395.93 610.12,398.17 610.32,399.02 610.52,400.89 610.72,401.52 610.92,400.45 611.12,400.43 611.32,396.43 611.52,392.69 611.71,398.00 611.91,396.59 612.11,397.56 612.31,398.79 612.51,395.63 612.71,396.06 612.91,399.34 613.11,400.03 613.31,397.52 613.51,401.26 613.71,398.92 613.91,396.31 614.11,399.75 614.31,405.73 614.50,397.41 614.70,401.30 614.90,404.07 615.10,404.45 615.30,396.90 615.50,406.12 615.70,399.93 615.90,398.72 616.10,398.79 616.30,401.48 616.50,399.68 616.70,398.93 616.90,403.67 617.10,397.14 617.30,396.08 617.49,402.04 617.69,401.74 617.89,403.00 618.09,395.95 618.29,402.94 618.49,400.98 618.69,405.13 618.89,395.33 619.09,400.09 619.29,398.46 619.49,394.18 619.69,397.02 619.89,403.00 620.09,397.79 620.29,396.95 620.48,402.12 620.68,402.50 620.88,402.48 621.08,396.68 621.28,399.05 621.48,402.58 621.68,397.08 621.88,396.76 622.08,401.88 622.28,404.25 622.48,395.41 622.68,390.69 622.88,394.40 623.08,395.81 623.27,398.65 623.47,401.08 623.67,398.59 623.87,396.77 624.07,399.53 624.27,395.88 624.47,398.84 624.67,396.89 624.87,407.69 625.07,401.60 625.27,396.20 625.47,395.66 625.67,397.46 625.87,393.51 626.07,396.47 626.26,396.42 626.46,401.69 626.66,397.40 626.86,396.19 627.06,394.37 627.26,394.88 627.46,398.48 627.66,397.97 627.86,402.35 628.06,396.57 628.26,402.06 628.46,399.41 628.66,398.53 628.86,391.96 629.05,394.27 629.25,400.88 629.45,402.99 629.65,399.07 629.85,400.85 630.05,396.99 630.25,397.08 630.45,396.08 630.65,401.40 630.85,399.29 631.05,392.47 631.25,397.01 631.45,399.86 631.65,399.04 631.85,395.21 632.04,403.51 632.24,398.66 632.44,397.79 632.64,402.54 632.84,400.99 633.04,397.27 633.24,399.24 633.44,393.88 633.64,395.20 633.84,389.78 634.04,401.15 634.24,390.76 634.44,399.16 634.64,394.06 634.84,393.44 635.03,395.90 635.23,397.29 635.43,398.28 635.63,401.97 635.83,397.12 636.03,398.67 636.23,393.55 636.43,397.70 636.63,395.60 636.83,393.28 637.03,394.21 637.23,394.00 637.43,394.49 637.63,394.79 637.82,391.27 638.02,389.97 638.22,394.39 638.42,385.46 638.62,388.35 638.82,394.86 639.02,379.41 639.22,385.20 639.42,388.75 639.62,379.43 639.82,392.68 640.02,373.26 640.22,385.64 640.42,384.43 640.62,380.52 640.81,374.82 641.01,375.16 641.21,369.09 641.41,373.57 641.61,365.34 641.81,367.14 642.01,370.71 642.21,362.52 642.41,364.82 642.61,366.64 642.81,361.49 643.01,370.89 643.21,368.61 643.41,362.81 643.61,368.94 643.80,367.32 644.00,368.72 644.20,372.28 644.40,370.42 644.60,377.18 644.80,372.08 645.00,378.70 645.20,375.68 645.40,379.33 645.60,374.81 645.80,375.22 646.00,373.12 646.20,379.22 646.40,380.41 646.59,384.33 646.79,381.07 646.99,376.88 647.19,374.50 647.39,375.60 647.59,372.83 647.79,376.46 647.99,372.61 648.19,367.24 648.39,361.49 648.59,365.54 648.79,357.98 648.99,351.87 649.19,352.57 649.39,342.13 649.58,337.76 649.78,332.42 649.98,322.45 650.18,329.17 650.38,318.30 650.58,318.57 650.78,316.90 650.98,322.65 651.18,321.08 651.38,323.96 651.58,318.11 651.78,331.49 651.98,331.26 652.18,343.12 652.37,348.72 652.57,352.65 652.77,365.22 652.97,364.56 653.17,369.22 653.37,371.60 653.57,373.95 653.77,381.08 653.97,384.17 654.17,378.08 654.37,388.10 654.57,387.81 654.77,390.65 654.97,390.05 655.17,385.15 655.36,386.17 655.56,396.98 655.76,392.23 655.96,387.09 656.16,393.48 656.36,391.48 656.56,386.87 656.76,385.70 656.96,388.31 657.16,394.86 657.36,394.04 657.56,393.61 657.76,395.61 657.96,396.86 658.16,388.06 658.35,394.23 658.55,392.65 658.75,391.46 658.95,393.89 659.15,395.43 659.35,395.09 659.55,391.28 659.75,394.61 659.95,402.97 660.15,392.93 660.35,390.93 660.55,397.50 660.75,398.64 660.95,398.56 661.14,393.13 661.34,400.18 661.54,394.37 661.74,393.28 661.94,395.07 662.14,396.77 662.34,399.53 662.54,399.28 662.74,397.20 662.94,400.38 663.14,397.62 663.34,400.33 663.54,392.83 663.74,392.30 663.94,400.04 664.13,392.97 664.33,396.57 664.53,397.27 664.73,396.02 664.93,396.15 665.13,402.22 665.33,389.41 665.53,400.60 665.73,405.24 665.93,397.83 666.13,397.71 666.33,400.16 666.53,403.78 666.73,393.94 666.92,398.12 667.12,397.24 667.32,399.69 667.52,398.40 667.72,400.05 667.92,396.53 668.12,398.07 668.32,395.74 668.52,397.96 668.72,397.48 668.92,397.49 669.12,394.13 669.32,403.10 669.52,397.54 669.72,393.47 669.91,401.59 670.11,395.56 670.31,399.66 670.51,397.95 670.71,398.83 670.91,398.58 671.11,396.14 671.31,398.16 671.51,404.66 671.71,390.73 671.91,398.25 672.11,399.45 672.31,394.60 672.51,393.56 672.71,405.08 672.90,396.82 673.10,404.82 673.30,399.78 673.50,398.28 673.70,399.58 673.90,400.10 674.10,401.87 674.30,399.44 674.50,398.48 674.70,398.58 674.90,402.41 675.10,400.66 675.30,394.71 675.50,395.90 675.69,399.05 675.89,395.92 676.09,396.72 676.29,394.81 676.49,397.07 676.69,399.29 676.89,401.15 677.09,397.91 677.29,404.65 677.49,397.60 677.69,408.27 677.89,401.08 678.09,399.41 678.29,396.13 678.49,388.49 678.68,397.20 678.88,398.26 679.08,403.94 679.28,393.08 679.48,403.81 679.68,396.69 679.88,399.83 680.08,389.06 680.28,397.78 680.48,396.11 680.68,399.38 680.88,397.31 681.08,393.10 681.28,390.58 681.47,398.77 681.67,398.20 681.87,399.26 682.07,399.22 682.27,395.08 682.47,390.14 682.67,389.49 682.87,398.02 683.07,395.19 683.27,392.39 683.47,389.75 683.67,390.43 683.87,389.48 684.07,387.28 684.27,385.05 684.46,393.89 684.66,386.32 684.86,382.58 685.06,379.40 685.26,380.75 685.46,385.28 685.66,385.15 685.86,381.72 686.06,382.82 686.26,381.96 686.46,379.74 686.66,388.76 686.86,386.37 687.06,394.49 687.26,384.34 687.45,387.42 687.65,391.86 687.85,388.95 688.05,385.97 688.25,388.30 688.45,392.61 688.65,394.13 688.85,393.29 689.05,397.51 689.25,397.95 689.45,396.13 689.65,395.50 689.85,394.87 690.05,397.78 690.24,399.20 690.44,396.51 690.64,397.93 690.84,395.46 691.04,391.95 691.24,393.36 691.44,399.23 691.64,398.20 691.84,401.99 692.04,396.92 692.24,399.58 692.44,401.08 692.64,399.97 692.84,394.64 693.04,396.01 693.23,397.00 693.43,393.26 693.63,398.04 693.83,399.79 694.03,394.74 694.23,402.79 694.43,395.21 694.63,395.41 694.83,395.19 695.03,393.51 695.23,397.13 695.43,395.68 695.63,400.99 695.83,397.32 696.03,396.91 696.22,394.18 696.42,389.97 696.62,394.13 696.82,391.27 697.02,396.95 697.22,393.22 697.42,398.40 697.62,394.63 697.82,396.86 698.02,391.16 698.22,389.88 698.42,389.93 698.62,389.07 698.82,381.29 699.01,382.89 699.21,387.34 699.41,374.42 699.61,369.94 699.81,364.08 700.01,356.69 700.21,361.29 700.41,352.16 700.61,348.03 700.81,348.93 701.01,347.07 701.21,330.78 701.41,335.19 701.61,331.82 701.81,330.40 702.00,331.34 702.20,331.27 702.40,340.13 702.60,340.22 702.80,343.59 703.00,351.69 703.20,355.39 703.40,358.82 703.60,363.21 703.80,372.92 704.00,372.73 704.20,374.45 704.40,375.17 704.60,379.93 704.79,380.02 704.99,386.13 705.19,388.39 705.39,381.95 705.59,390.17 705.79,393.24 705.99,392.35 706.19,389.16 706.39,397.13 706.59,390.89 706.79,389.39 706.99,390.12 707.19,393.86 707.39,397.31 707.59,397.99 707.78,394.79 707.98,390.04 708.18,391.73 708.38,390.74 708.58,392.90 708.78,387.20 708.98,393.11 709.18,394.38 709.38,391.05 709.58,392.35 709.78,386.71 709.98,383.93 710.18,385.57 710.38,390.46 710.58,388.67 710.77,382.08 710.97,386.31 711.17,379.43 711.37,384.26 711.57,379.13 711.77,374.39 711.97,377.46 712.17,370.81 712.37,369.37 712.57,367.00 712.77,372.85 712.97,371.91 713.17,372.36 713.37,372.04 713.56,379.68 713.76,374.49 713.96,374.95 714.16,383.46 714.36,385.72 714.56,383.63 714.76,378.09 714.96,383.63 715.16,389.30 715.36,388.67 715.56,395.19 715.76,386.44 715.96,394.42 716.16,390.95 716.36,398.32 716.55,394.33 716.75,398.64 716.95,393.56 717.15,391.47 717.35,392.84 717.55,394.83 717.75,393.71 717.95,401.29 718.15,401.93 718.35,398.58 718.55,394.41 718.75,397.54 718.95,395.78 719.15,402.91 719.34,399.26 719.54,395.59 719.74,397.05 719.94,391.83 720.14,395.96 720.34,394.89 720.54,399.82 720.74,398.98 720.94,396.09 721.14,397.49 721.34,403.93 721.54,395.72 721.74,395.89 721.94,398.19 722.14,396.69 722.33,397.61 722.53,400.79 722.73,404.74 722.93,393.31 723.13,399.09 723.33,399.32 723.53,398.94 723.73,398.64 723.93,398.17 724.13,402.58 724.33,397.82 724.53,398.94 724.73,399.38 724.93,399.76 725.13,398.88 725.32,402.71 725.52,399.45 725.72,400.07 725.92,399.36 726.12,396.29 726.32,396.87 726.52,396.18 726.72,400.24 726.92,397.31 727.12,396.20 727.32,400.45 727.52,401.40 727.72,393.99 727.92,405.22 728.11,399.85 728.31,399.42 728.51,403.25 728.71,400.03 728.91,397.86 729.11,406.96 729.31,396.36 729.51,399.55 729.71,402.63 729.91,396.43 730.11,399.58 730.31,401.18 730.51,407.73 730.71,397.06 730.91,399.82 731.10,402.12 731.30,400.27 731.50,396.12 731.70,401.35 731.90,400.39 732.10,401.50 732.30,403.74 732.50,403.37 732.70,401.42 732.90,401.12 733.10,396.57 733.30,399.70 733.50,400.87 733.70,398.87 733.89,400.49 734.09,397.52 734.29,405.17 734.49,407.18 734.69,398.97 734.89,401.54 735.09,399.49 735.29,404.35 735.49,401.68 735.69,400.54 735.89,399.58 736.09,400.72 736.29,397.08 736.49,402.52 736.69,398.03 736.88,402.09 737.08,400.79 737.28,403.92 737.48,400.34 737.68,403.71 737.88,397.43 738.08,402.40 738.28,399.71 738.48,401.07 738.68,400.69 738.88,403.50 739.08,393.95 739.28,401.53 739.48,395.67 739.68,404.41 739.87,394.14 740.07,397.29 740.27,395.13 740.47,405.85 740.67,396.40 740.87,400.94 741.07,398.85 741.27,394.78 741.47,399.51 741.67,402.76 741.87,400.03 742.07,403.68 742.27,399.47 742.47,400.68 742.66,399.42 742.86,401.78 743.06,406.82 743.26,401.86 743.46,401.33 743.66,398.72 743.86,398.28 744.06,405.46 744.26,397.15 744.46,397.80 744.66,400.45 744.86,399.40 745.06,407.10 745.26,393.13 745.46,401.93 745.65,403.06 745.85,395.69 746.05,398.66 746.25,402.14 746.45,405.99 746.65,397.75 746.85,395.62 747.05,403.85 747.25,405.63 747.45,399.62 747.65,393.55 747.85,405.37 748.05,400.04 748.25,404.30 748.45,400.53 748.64,399.45 748.84,399.19 749.04,405.40 749.24,405.27 749.44,393.73 749.64,397.60 749.84,406.36 750.04,399.43 750.24,396.21 750.44,400.61 750.64,400.24 750.84,400.27 751.04,399.03 751.24,399.57 751.43,399.09 751.63,401.63 751.83,397.93 752.03,399.61 752.23,400.07 752.43,404.74 752.63,401.73 752.83,400.16 753.03,402.24 753.23,401.81 753.43,404.00 753.63,402.12 753.83,406.27 754.03,404.81 754.23,400.33 754.42,399.12 754.62,403.30 754.82,402.11 755.02,400.13 755.22,395.66 755.42,394.51 755.62,401.54 755.82,402.89 756.02,402.99 756.22,396.24 756.42,403.73 756.62,398.66 756.82,401.62 757.02,401.71 757.21,397.77 757.41,398.44 757.61,393.66 757.81,397.38 758.01,394.51 758.21,401.73 758.41,400.51 758.61,403.25 758.81,401.45 759.01,398.24 759.21,401.40 759.41,399.02 759.61,402.23 759.81,401.28 760.01,397.06 760.20,400.25 760.40,400.42 760.60,399.24 760.80,403.11 761.00,405.74 761.20,399.02 761.40,399.07 761.60,392.94 761.80,399.77 762.00,398.77 762.20,392.56 762.40,401.09 762.60,402.06 762.80,397.78 763.00,403.50 763.19,397.01 763.39,402.58 763.59,395.22 763.79,399.10 763.99,406.39 764.19,400.26 764.39,401.59 764.59,399.60 764.79,396.28 764.99,399.95 765.19,401.36 765.39,396.75 765.59,401.14 765.79,404.04 765.98,403.47 766.18,394.91 766.38,396.86 766.58,394.79 766.78,403.44 766.98,401.95 767.18,402.24 767.38,397.13 767.58,396.20 767.78,400.20 767.98,400.27 768.18,397.18 768.38,400.38 768.58,401.99 768.78,400.64 768.97,396.55 769.17,393.08 769.37,399.05 769.57,400.40 769.77,399.03 769.97,398.48 770.17,397.61 770.37,402.13 770.57,399.64 770.77,400.19 770.97,396.64 771.17,397.75 771.37,400.26 771.57,396.48 771.76,395.64 771.96,398.62 772.16,403.54 772.36,400.26 772.56,404.34 772.76,399.19 772.96,398.59 773.16,395.08 773.36,397.70 773.56,404.17 773.76,400.58 773.96,401.87 774.16,401.76 774.36,399.43 774.56,398.79 774.75,399.81 774.95,405.74 775.15,400.87 775.35,400.96 775.55,399.85 775.75,396.85 775.95,398.47 776.15,396.26 776.35,402.52 776.55,392.48 776.75,398.54 776.95,406.92 777.15,398.10 777.35,395.52 777.55,409.08 777.74,403.30 777.94,398.61 778.14,401.08 778.34,399.41 778.54,397.86 778.74,409.21 778.94,399.25 779.14,397.27 779.34,397.40 779.54,400.19 779.74,400.26 779.94,401.41 780.14,399.36 780.34,394.25 780.53,400.58 780.73,397.84 780.93,397.89 781.13,394.00 781.33,396.91 781.53,396.39 781.73,398.60 781.93,394.00 782.13,398.83 782.33,399.05 782.53,394.99 782.73,396.57 782.93,395.78 783.13,401.47 783.33,390.31 783.52,397.35 783.72,393.05 783.92,396.99 784.12,401.09 784.32,396.25 784.52,398.70 784.72,395.45 784.92,404.44 785.12,401.04 785.32,401.67 785.52,393.60 785.72,394.25 785.92,401.27 786.12,397.01 786.31,396.69 786.51,398.50 786.71,393.17 786.91,399.66 787.11,397.03 787.31,398.37 787.51,394.40 787.71,398.09 787.91,393.86 788.11,399.10 788.31,399.44 788.51,398.46 788.71,396.87 788.91,396.97 789.11,385.56 789.30,397.01 789.50,392.98 789.70,393.87 789.90,392.25 790.10,388.18 790.30,390.67 790.50,394.32 790.70,396.51 790.90,389.28 791.10,387.97 791.30,395.58 791.50,387.37 791.70,397.06 791.90,389.94 792.10,386.53 792.29,392.65 792.49,394.89 792.69,384.16 792.89,394.24 793.09,388.00 793.29,394.08 793.49,387.88 793.69,384.01 793.89,391.28 794.09,392.97 794.29,397.22 794.49,396.27 794.69,393.14 794.89,390.35 795.08,389.76 795.28,390.91 795.48,390.53 795.68,391.74 795.88,384.52 796.08,394.02 796.28,393.70 796.48,402.71 796.68,397.03 796.88,393.25 797.08,397.05 797.28,391.42 797.48,393.79 797.68,389.89 797.88,401.07 798.07,398.54 798.27,392.95 798.47,396.84 798.67,397.62 798.87,399.06 799.07,398.86 799.27,394.97 799.47,395.85 799.67,395.50 799.87,401.20 800.07,395.62 800.27,394.78 800.47,402.25 800.67,395.60 800.87,402.21 801.06,399.58 801.26,405.44 801.46,404.60 801.66,401.24 801.86,401.58 802.06,396.15 802.26,396.93 802.46,401.32 802.66,404.25 802.86,403.84 803.06,406.87 803.26,400.43 803.46,400.13 803.66,402.77 803.85,399.62 804.05,399.40 804.25,396.25 804.45,402.88 804.65,396.26 804.85,401.41 805.05,395.22 805.25,403.38 805.45,396.57 805.65,402.66 805.85,394.85 806.05,398.60 806.25,403.87 806.45,397.51 806.65,400.37 806.84,398.65 807.04,392.79 807.24,401.28 807.44,401.72 807.64,396.80 807.84,402.26 808.04,397.89 808.24,397.26 808.44,400.56 808.64,398.39 808.84,408.02 809.04,395.65 809.24,403.09 809.44,403.94 809.63,394.41 809.83,395.25 810.03,402.69 810.23,399.37 810.43,402.20 810.63,404.67 810.83,399.84 811.03,397.66 811.23,392.33 811.43,401.83 811.63,398.22 811.83,402.26 812.03,402.04 812.23,396.87 812.43,406.93 812.62,404.91 812.82,404.19 813.02,397.68 813.22,400.23 813.42,399.82 813.62,400.29 813.82,398.04 814.02,403.10 814.22,402.48 814.42,402.96 814.62,400.20 814.82,406.02 815.02,402.51 815.22,393.13 815.42,399.93 815.61,401.85 815.81,405.18 816.01,401.14 816.21,401.35 816.41,400.06 816.61,404.38 816.81,400.83 817.01,400.37 817.21,399.97 817.41,404.19 817.61,400.72 817.81,397.08 818.01,404.52 818.21,400.30 818.40,403.75 818.60,403.84 818.80,406.55 819.00,406.08 819.20,400.91 819.40,402.27 819.60,398.69 819.80,408.28" fill="none" stroke="#ff0000" stroke-width="1" stroke-linejoin="round" stroke-linejoin="miter"/>
<line x1="333.40" y1="425.60" x2="333.40" y2="477.30" stroke="#000" stroke-width="5" stroke-linecap="round"/>
<line x1="359.70" y1="436.40" x2="359.70" y2="477.30" stroke="#000" stroke-width="5" stroke-linecap="round"/>
<line x1="378.10" y1="387.30" x2="378.10" y2="477.30" stroke="#000" stroke-width="5" stroke-linecap="round"/>
<line x1="492.00" y1="455.80" x2="492.00" y2="477.30" stroke="#000" stroke-width="5" stroke-linecap="round"/>
<line x1="583.40" y1="447.30" x2="583.40" y2="477.30" stroke="#000" stroke-width="5" stroke-linecap="round"/>
<line x1="646.50" y1="449.90" x2="646.50" y2="477.30" stroke="#000" stroke-width="5" stroke-linecap="round"/>
<line x1="682.30" y1="471.60" x2="682.30" y2="477.30" stroke="#000" stroke-width="5" stroke-linecap="round"/>
<line x1="698.40" y1="455.80" x2="698.40" y2="477.30" stroke="#000" stroke-width="5" stroke-linecap="round"/>
<line x1="709.70" y1="465.70" x2="709.70" y2="477.30" stroke="#000" stroke-width="5" stroke-linecap="round"/>
<line x1="744.40" y1="475.00" x2="744.40" y2="477.30" stroke="#000" stroke-width="5" stroke-linecap="round"/>
<line x1="788.90" y1="472.10" x2="788.90" y2="477.30" stroke="#000" stroke-width="5" stroke-linecap="round"/>
<rect x="62.6" y="2.2" width="757.2" height="475.1" fill="none" stroke="#000" stroke-width="3"/>
<text x="383.0" y="37.5" font-size="28.6" font-weight="bold" text-anchor="start" fill="#000" >(101)</text>
<text x="305.2" y="121.8" font-size="28.6" font-weight="bold" text-anchor="start" fill="#000" >(100)</text>
<text x="342.5" y="201.5" font-size="28.6" font-weight="bold" text-anchor="start" fill="#000" >(002)</text>
<text x="350.7" y="305.7" font-size="28.6" font-weight="bold" text-anchor="start" fill="#0070c0" >(110)</text>
<text x="465.4" y="318.7" font-size="28.6" font-weight="bold" text-anchor="start" fill="#000" >(102)</text>
<text x="566.5" y="260.7" font-size="28.6" font-weight="bold" text-anchor="start" fill="#000" >(110)</text>
<text x="631.4" y="308.7" font-size="28.6" font-weight="bold" text-anchor="start" fill="#000" >(103)</text>
<text x="603.9" y="360.7" font-size="28.6" font-weight="bold" text-anchor="start" fill="#0070c0" >(214)</text>
<text x="657.7" y="380.0" font-size="28.6" font-weight="bold" text-anchor="start" fill="#0070c0" >(300)</text>
<text x="695.4" y="325.6" font-size="28.6" font-weight="bold" text-anchor="start" fill="#000" >(112)</text>
<text x="717.4" y="370.1" font-size="28.6" font-weight="bold" text-anchor="start" fill="#000" >(201)</text>
<text x="92.5" y="383.9" font-size="33" font-weight="bold" text-anchor="start" fill="#ff0000" >Fe-ZnO</text>
<text x="80.9" y="470.9" font-size="33" font-weight="bold" text-anchor="start" fill="#000" >JCPDS</text>
<text x="190.7" y="470.9" font-size="28" font-weight="bold" text-anchor="start" fill="#000" >36-1451</text>
<text x="782.0" y="74.5" font-size="48" text-anchor="end" fill="#000" >(a)</text>
<text x="62.7" y="532.5" font-size="38.5" font-weight="bold" text-anchor="middle" fill="#000" >5</text>
<text x="163.8" y="532.5" font-size="38.5" font-weight="bold" text-anchor="middle" fill="#000" >15</text>
<text x="264.8" y="532.5" font-size="38.5" font-weight="bold" text-anchor="middle" fill="#000" >25</text>
<text x="365.8" y="532.5" font-size="38.5" font-weight="bold" text-anchor="middle" fill="#000" >35</text>
<text x="466.9" y="532.5" font-size="38.5" font-weight="bold" text-anchor="middle" fill="#000" >45</text>
<text x="568.0" y="532.5" font-size="38.5" font-weight="bold" text-anchor="middle" fill="#000" >55</text>
<text x="669.0" y="532.5" font-size="38.5" font-weight="bold" text-anchor="middle" fill="#000" >65</text>
<text x="770.1" y="532.5" font-size="38.5" font-weight="bold" text-anchor="middle" fill="#000" >75</text>
<text x="447.0" y="558.6" font-size="36.5" font-weight="bold" text-anchor="middle" fill="#000" >2θ (degree)</text>
<text transform="translate(44.5,253.4) rotate(-90)" font-size="37" font-weight="bold" text-anchor="middle">Intensify (a.u)</text>
<polyline points="1063.80,371.80 1077.60,364.40 1107.50,358.00 1126.60,346.50 1174.10,293.30 1204.80,239.90 1243.10,239.90 1287.70,214.60 1350.30,171.70 1432.00,146.90 1545.70,134.10 1688.50,84.30" fill="none" stroke="#ff0000" stroke-width="3.5" stroke-linejoin="round" />
<line x1="1262.30" y1="125.30" x2="1082.20" y2="492.40" stroke="#4a7ebb" stroke-width="3" stroke-dasharray="11.6 9.7"/>
<line x1="1001.70" y1="13.20" x2="1001.70" y2="467.80" stroke="#000" stroke-width="3" />
<line x1="1000.20" y1="466.30" x2="1690.00" y2="466.30" stroke="#000" stroke-width="3" />
<line x1="990.70" y1="13.20" x2="1690.00" y2="13.20" stroke="#000" stroke-width="3" />
<line x1="1688.50" y1="11.70" x2="1688.50" y2="477.30" stroke="#000" stroke-width="3" />
<line x1="990.70" y1="466.30" x2="1001.70" y2="466.30" stroke="#000" stroke-width="3" />
<text x="969.7" y="477.9" font-size="36.5" text-anchor="end" fill="#000" >0.0</text>
<line x1="990.70" y1="390.78" x2="1001.70" y2="390.78" stroke="#000" stroke-width="3" />
<text x="969.7" y="402.4" font-size="36.5" text-anchor="end" fill="#000" >0.5</text>
<line x1="990.70" y1="315.27" x2="1001.70" y2="315.27" stroke="#000" stroke-width="3" />
<text x="969.7" y="326.9" font-size="36.5" text-anchor="end" fill="#000" >1.0</text>
<line x1="990.70" y1="239.75" x2="1001.70" y2="239.75" stroke="#000" stroke-width="3" />
<text x="969.7" y="251.3" font-size="36.5" text-anchor="end" fill="#000" >1.5</text>
<line x1="990.70" y1="164.23" x2="1001.70" y2="164.23" stroke="#000" stroke-width="3" />
<text x="969.7" y="175.8" font-size="36.5" text-anchor="end" fill="#000" >2.0</text>
<line x1="990.70" y1="88.72" x2="1001.70" y2="88.72" stroke="#000" stroke-width="3" />
<text x="969.7" y="100.3" font-size="36.5" text-anchor="end" fill="#000" >2.5</text>
<line x1="990.70" y1="13.20" x2="1001.70" y2="13.20" stroke="#000" stroke-width="3" />
<text x="969.7" y="24.8" font-size="36.5" text-anchor="end" fill="#000" >3.0</text>
<line x1="1001.70" y1="466.30" x2="1001.70" y2="477.30" stroke="#000" stroke-width="3" />
<text x="1001.7" y="520.7" font-size="36.5" text-anchor="middle" fill="#000" >1.0</text>
<line x1="1139.06" y1="466.30" x2="1139.06" y2="477.30" stroke="#000" stroke-width="3" />
<text x="1139.1" y="520.7" font-size="36.5" text-anchor="middle" fill="#000" >2.0</text>
<line x1="1276.42" y1="466.30" x2="1276.42" y2="477.30" stroke="#000" stroke-width="3" />
<text x="1276.4" y="520.7" font-size="36.5" text-anchor="middle" fill="#000" >3.0</text>
<line x1="1413.78" y1="466.30" x2="1413.78" y2="477.30" stroke="#000" stroke-width="3" />
<text x="1413.8" y="520.7" font-size="36.5" text-anchor="middle" fill="#000" >4.0</text>
<line x1="1551.14" y1="466.30" x2="1551.14" y2="477.30" stroke="#000" stroke-width="3" />
<text x="1551.1" y="520.7" font-size="36.5" text-anchor="middle" fill="#000" >5.0</text>
<line x1="1688.50" y1="466.30" x2="1688.50" y2="477.30" stroke="#000" stroke-width="3" />
<text x="1688.5" y="520.7" font-size="36.5" text-anchor="middle" fill="#000" >6.0</text>
<text x="1345.0" y="558.6" font-size="35.5" font-weight="bold" text-anchor="middle" fill="#000" >h×υ (eV)</text>
<text x="1488.0" y="100.0" font-size="42" text-anchor="middle" fill="#000" >(b)</text>
<text transform="translate(905.5,240) rotate(-90)" font-size="37" font-weight="bold" text-anchor="middle" xml:space="preserve">(α×h×υ)<tspan font-size="23" dy="-11">1/2</tspan><tspan dy="11">  (eV/m)</tspan><tspan font-size="23" dy="-11">1/2</tspan></text>
<polyline points="112.70,722.70 112.97,722.43 113.32,722.06 113.73,721.61 114.20,721.12 114.71,720.63 115.25,720.15 115.82,719.73 116.40,719.40 116.98,719.12 117.58,718.86 118.19,718.63 118.84,718.43 119.54,718.28 120.29,718.18 121.11,718.15 122.00,718.20 122.97,718.34 124.00,718.58 125.08,718.89 126.23,719.25 127.44,719.64 128.70,720.05 130.02,720.44 131.40,720.80 132.89,721.17 134.53,721.59 136.25,722.04 138.01,722.47 139.77,722.88 141.47,723.22 143.06,723.47 144.50,723.60 145.76,723.60 146.86,723.50 147.87,723.31 148.82,723.05 149.75,722.75 150.71,722.43 151.75,722.10 152.90,721.80 154.13,721.50 155.37,721.17 156.64,720.82 157.97,720.46 159.36,720.09 160.83,719.72 162.41,719.36 164.10,719.00 165.98,718.64 168.06,718.27 170.27,717.89 172.55,717.51 174.83,717.15 177.04,716.80 179.12,716.48 181.00,716.20 182.65,715.97 184.14,715.80 185.49,715.66 186.78,715.53 188.05,715.40 189.34,715.25 190.70,715.06 192.20,714.80 193.82,714.47 195.50,714.10 197.24,713.68 199.02,713.24 200.82,712.78 202.63,712.33 204.43,711.90 206.20,711.50 207.99,711.13 209.83,710.78 211.69,710.44 213.54,710.10 215.36,709.76 217.11,709.42 218.77,709.07 220.30,708.70 221.66,708.32 222.85,707.95 223.93,707.58 224.96,707.19 225.98,706.79 227.06,706.36 228.25,705.90 229.60,705.40 231.11,704.85 232.72,704.24 234.42,703.60 236.19,702.94 238.00,702.26 239.86,701.59 241.73,700.93 243.60,700.30 245.56,699.67 247.65,699.03 249.81,698.39 251.99,697.75 254.11,697.14 256.11,696.57 257.93,696.05 259.50,695.60 260.73,695.23 261.64,694.95 262.34,694.72 262.94,694.53 263.54,694.36 264.26,694.17 265.21,693.96 266.50,693.70 268.13,693.39 269.99,693.04 272.03,692.68 274.22,692.30 276.50,691.92 278.82,691.56 281.13,691.21 283.40,690.90 285.62,690.61 287.84,690.34 290.07,690.08 292.34,689.83 294.66,689.60 297.05,689.38 299.53,689.18 302.10,689.00 304.83,688.82 307.73,688.65 310.74,688.49 313.80,688.34 316.86,688.23 319.87,688.14 322.77,688.10 325.50,688.10 328.06,688.17 330.51,688.30 332.86,688.49 335.14,688.70 337.39,688.93 339.64,689.15 341.89,689.34 344.20,689.50 346.51,689.63 348.76,689.74 351.01,689.84 353.26,689.94 355.54,690.02 357.89,690.09 360.34,690.15 362.90,690.20 365.66,690.23 368.64,690.22 371.74,690.20 374.89,690.17 378.01,690.14 381.00,690.13 383.79,690.15 386.30,690.20 388.53,690.29 390.57,690.40 392.44,690.54 394.18,690.69 395.80,690.85 397.34,691.03 398.83,691.21 400.30,691.40 401.68,691.59 402.92,691.80 404.06,692.02 405.14,692.24 406.20,692.48 407.29,692.71 408.44,692.96 409.70,693.20 411.05,693.43 412.43,693.63 413.85,693.83 415.31,694.04 416.81,694.28 418.34,694.56 419.90,694.89 421.50,695.30 423.14,695.79 424.85,696.36 426.59,696.99 428.36,697.66 430.15,698.36 431.95,699.05 433.73,699.74 435.50,700.40 437.25,701.02 439.00,701.62 440.75,702.21 442.50,702.80 444.25,703.41 446.00,704.06 447.75,704.75 449.50,705.50 451.25,706.31 453.00,707.16 454.75,708.05 456.49,708.98 458.24,709.94 459.99,710.94 461.75,711.96 463.50,713.00 465.26,714.08 467.02,715.22 468.78,716.39 470.55,717.59 472.32,718.80 474.08,720.01 475.84,721.22 477.60,722.40 479.35,723.57 481.11,724.73 482.86,725.89 484.61,727.05 486.35,728.21 488.10,729.37 489.85,730.53 491.60,731.70 493.35,732.86 495.09,734.00 496.83,735.14 498.58,736.28 500.32,737.44 502.07,738.62 503.83,739.84 505.60,741.10 507.36,742.42 509.11,743.79 510.86,745.20 512.61,746.64 514.39,748.08 516.21,749.51 518.07,750.93 520.00,752.30 522.00,753.62 524.07,754.90 526.19,756.16 528.34,757.41 530.52,758.67 532.70,759.96 534.86,761.30 537.00,762.70 539.12,764.20 541.23,765.79 543.34,767.44 545.45,769.11 547.56,770.78 549.67,772.40 551.78,773.95 553.90,775.40 556.02,776.76 558.15,778.06 560.27,779.32 562.40,780.52 564.53,781.68 566.65,782.77 568.78,783.82 570.90,784.80 572.99,785.71 575.05,786.53 577.09,787.29 579.14,788.00 581.21,788.68 583.33,789.34 585.52,790.01 587.80,790.70 590.21,791.39 592.74,792.06 595.35,792.71 598.00,793.36 600.65,794.02 603.26,794.68 605.79,795.38 608.20,796.10 610.48,796.84 612.67,797.58 614.79,798.33 616.86,799.11 618.91,799.91 620.95,800.75 623.01,801.65 625.10,802.60 627.22,803.63 629.34,804.75 631.47,805.92 633.59,807.12 635.72,808.35 637.85,809.57 639.97,810.76 642.10,811.90 644.19,813.00 646.23,814.08 648.26,815.15 650.29,816.20 652.36,817.25 654.50,818.29 656.74,819.34 659.10,820.40 661.59,821.47 664.17,822.57 666.83,823.67 669.58,824.76 672.38,825.84 675.24,826.90 678.15,827.92 681.10,828.90 684.08,829.85 687.09,830.80 690.15,831.72 693.26,832.62 696.44,833.47 699.70,834.26 703.05,834.97 706.50,835.60 710.09,836.16 713.83,836.66 717.67,837.10 721.59,837.48 725.53,837.79 729.45,838.01 733.33,838.15 737.10,838.20 740.81,838.14 744.51,837.97 748.18,837.72 751.83,837.38 755.43,836.99 758.98,836.55 762.48,836.08 765.90,835.60 769.29,835.06 772.68,834.44 776.04,833.76 779.33,833.04 782.53,832.33 785.61,831.65 788.55,831.03 791.30,830.50 793.95,830.05 796.56,829.63 799.07,829.26 801.44,828.93 803.60,828.64 805.52,828.39 807.14,828.18 808.40,828.00" fill="none" stroke="#ff0000" stroke-width="3.2" stroke-linejoin="round" />
<polyline points="112.70,949.10 113.16,949.41 113.76,949.85 114.47,950.37 115.27,950.93 116.13,951.51 117.02,952.05 117.92,952.53 118.80,952.90 119.64,953.19 120.47,953.45 121.30,953.67 122.17,953.85 123.10,953.98 124.11,954.05 125.23,954.06 126.50,954.00 127.95,953.88 129.59,953.69 131.36,953.45 133.21,953.16 135.08,952.80 136.93,952.39 138.68,951.92 140.30,951.40 141.77,950.79 143.16,950.07 144.47,949.29 145.74,948.45 147.01,947.60 148.29,946.75 149.61,945.94 151.00,945.20 152.47,944.50 154.00,943.80 155.57,943.11 157.15,942.45 158.73,941.82 160.30,941.23 161.83,940.68 163.30,940.20 164.71,939.77 166.09,939.36 167.43,939.00 168.75,938.69 170.06,938.42 171.36,938.22 172.67,938.07 174.00,938.00 175.34,938.02 176.67,938.14 178.01,938.33 179.34,938.57 180.68,938.84 182.02,939.12 183.36,939.38 184.70,939.60 186.04,939.81 187.36,940.05 188.68,940.30 190.01,940.54 191.34,940.76 192.70,940.94 194.08,941.06 195.50,941.10 196.95,941.08 198.41,941.03 199.90,940.94 201.41,940.79 202.95,940.59 204.50,940.33 206.09,940.00 207.70,939.60 209.39,939.09 211.18,938.48 213.03,937.78 214.88,937.03 216.70,936.25 218.44,935.47 220.06,934.71 221.50,934.00 222.73,933.33 223.78,932.67 224.70,932.01 225.54,931.36 226.35,930.72 227.20,930.08 228.13,929.44 229.20,928.80 230.39,928.15 231.65,927.48 232.96,926.80 234.32,926.14 235.71,925.49 237.13,924.88 238.56,924.31 240.00,923.80 241.49,923.32 243.06,922.86 244.67,922.42 246.29,922.02 247.89,921.69 249.43,921.43 250.88,921.26 252.20,921.20 253.38,921.23 254.44,921.33 255.42,921.50 256.33,921.76 257.21,922.11 258.08,922.56 258.97,923.12 259.90,923.80 260.86,924.59 261.83,925.47 262.79,926.46 263.76,927.56 264.72,928.75 265.68,930.06 266.64,931.47 267.60,933.00 268.55,934.69 269.50,936.56 270.45,938.57 271.40,940.67 272.35,942.82 273.30,944.97 274.25,947.08 275.20,949.10 276.14,951.06 277.05,953.02 277.95,954.96 278.86,956.89 279.79,958.81 280.76,960.70 281.79,962.56 282.90,964.40 284.09,966.23 285.36,968.06 286.69,969.89 288.06,971.68 289.45,973.43 290.85,975.11 292.24,976.71 293.60,978.20 294.91,979.59 296.19,980.90 297.44,982.12 298.71,983.28 300.02,984.38 301.38,985.43 302.83,986.43 304.40,987.40 306.10,988.34 307.91,989.25 309.81,990.11 311.77,990.92 313.76,991.68 315.77,992.36 317.76,992.97 319.70,993.50 321.55,993.93 323.30,994.26 325.01,994.51 326.74,994.70 328.55,994.84 330.49,994.94 332.62,995.02 335.00,995.10 337.56,995.17 340.22,995.21 343.01,995.21 345.96,995.19 349.10,995.14 352.47,995.06 356.09,994.95 360.00,994.80 363.87,994.61 367.54,994.38 371.26,994.11 375.31,993.82 379.95,993.50 385.43,993.17 392.03,992.83 400.00,992.50 409.63,992.16 420.78,991.80 433.11,991.43 446.25,991.04 459.86,990.66 473.59,990.27 487.09,989.88 500.00,989.50 512.50,989.13 525.00,988.76 537.50,988.40 550.00,988.03 562.50,987.66 575.00,987.29 587.50,986.90 600.00,986.50 612.44,986.09 624.80,985.66 637.13,985.23 649.48,984.79 661.88,984.35 674.41,983.90 687.10,983.45 700.00,983.00 713.89,982.52 729.05,982.00 744.80,981.46 760.45,980.93 775.32,980.43 788.73,979.97 799.98,979.59 808.40,979.30" fill="none" stroke="#4f81bd" stroke-width="3.2" stroke-linejoin="round" />
<polyline points="112.70,1026.50 113.16,1026.81 113.76,1027.25 114.47,1027.77 115.27,1028.33 116.13,1028.91 117.02,1029.45 117.92,1029.93 118.80,1030.30 119.64,1030.59 120.47,1030.85 121.30,1031.07 122.17,1031.25 123.10,1031.38 124.11,1031.45 125.23,1031.46 126.50,1031.40 127.95,1031.28 129.59,1031.09 131.36,1030.85 133.21,1030.56 135.08,1030.20 136.93,1029.79 138.68,1029.32 140.30,1028.80 141.77,1028.19 143.16,1027.47 144.47,1026.69 145.74,1025.85 147.01,1025.00 148.29,1024.15 149.61,1023.34 151.00,1022.60 152.47,1021.90 154.00,1021.20 155.57,1020.51 157.15,1019.85 158.73,1019.22 160.30,1018.63 161.83,1018.08 163.30,1017.60 164.71,1017.17 166.09,1016.76 167.43,1016.40 168.75,1016.09 170.06,1015.82 171.36,1015.62 172.67,1015.47 174.00,1015.40 175.34,1015.42 176.67,1015.54 178.01,1015.73 179.34,1015.97 180.68,1016.24 182.02,1016.52 183.36,1016.78 184.70,1017.00 186.04,1017.21 187.36,1017.45 188.68,1017.70 190.01,1017.94 191.34,1018.16 192.70,1018.34 194.08,1018.46 195.50,1018.50 196.95,1018.48 198.41,1018.43 199.90,1018.34 201.41,1018.19 202.95,1017.99 204.50,1017.73 206.09,1017.40 207.70,1017.00 209.39,1016.49 211.18,1015.88 213.03,1015.18 214.88,1014.43 216.70,1013.65 218.44,1012.87 220.06,1012.11 221.50,1011.40 222.73,1010.73 223.78,1010.07 224.70,1009.41 225.54,1008.76 226.35,1008.12 227.20,1007.48 228.13,1006.84 229.20,1006.20 230.39,1005.55 231.65,1004.88 232.96,1004.20 234.32,1003.54 235.71,1002.89 237.13,1002.28 238.56,1001.71 240.00,1001.20 241.49,1000.72 243.06,1000.26 244.67,999.82 246.29,999.42 247.89,999.09 249.43,998.83 250.88,998.66 252.20,998.60 253.38,998.63 254.44,998.73 255.42,998.90 256.33,999.16 257.21,999.51 258.08,999.96 258.97,1000.52 259.90,1001.20 260.86,1001.99 261.83,1002.87 262.79,1003.86 263.76,1004.96 264.72,1006.15 265.68,1007.46 266.64,1008.87 267.60,1010.40 268.55,1012.09 269.50,1013.96 270.45,1015.97 271.40,1018.07 272.35,1020.22 273.30,1022.37 274.25,1024.48 275.20,1026.50 276.14,1028.46 277.05,1030.42 277.95,1032.36 278.86,1034.29 279.79,1036.21 280.76,1038.10 281.79,1039.96 282.90,1041.80 284.09,1043.63 285.36,1045.46 286.69,1047.29 288.06,1049.08 289.45,1050.83 290.85,1052.51 292.24,1054.11 293.60,1055.60 294.91,1056.99 296.19,1058.30 297.44,1059.52 298.71,1060.68 300.02,1061.78 301.38,1062.83 302.83,1063.83 304.40,1064.80 306.10,1065.74 307.91,1066.65 309.81,1067.51 311.77,1068.33 313.76,1069.08 315.77,1069.76 317.76,1070.37 319.70,1070.90 321.55,1071.33 323.30,1071.66 325.01,1071.91 326.74,1072.10 328.55,1072.24 330.49,1072.34 332.62,1072.42 335.00,1072.50 337.56,1072.57 340.22,1072.61 343.01,1072.61 345.96,1072.59 349.10,1072.54 352.47,1072.46 356.09,1072.35 360.00,1072.20 363.87,1072.01 367.54,1071.78 371.26,1071.51 375.31,1071.22 379.95,1070.90 385.43,1070.57 392.03,1070.23 400.00,1069.90 409.63,1069.56 420.78,1069.20 433.11,1068.83 446.25,1068.44 459.86,1068.06 473.59,1067.67 487.09,1067.28 500.00,1066.90 512.50,1066.53 525.00,1066.16 537.50,1065.80 550.00,1065.43 562.50,1065.06 575.00,1064.69 587.50,1064.30 600.00,1063.90 612.44,1063.49 624.80,1063.06 637.13,1062.63 649.48,1062.19 661.88,1061.75 674.41,1061.30 687.10,1060.85 700.00,1060.40 713.89,1059.92 729.05,1059.40 744.80,1058.86 760.45,1058.33 775.32,1057.83 788.73,1057.37 799.98,1056.99 808.40,1056.70" fill="none" stroke="#00b050" stroke-width="3.2" stroke-linejoin="round" />
<line x1="112.40" y1="613.80" x2="112.40" y2="1079.10" stroke="#000" stroke-width="3" />
<line x1="110.90" y1="1077.60" x2="810.10" y2="1077.60" stroke="#000" stroke-width="3" />
<line x1="101.40" y1="613.80" x2="810.10" y2="613.80" stroke="#000" stroke-width="3" />
<line x1="808.60" y1="612.30" x2="808.60" y2="1079.10" stroke="#000" stroke-width="3" />
<line x1="101.40" y1="1077.60" x2="112.40" y2="1077.60" stroke="#000" stroke-width="3" />
<text x="80.8" y="1089.1" font-size="36.5" text-anchor="end" fill="#000" >0</text>
<line x1="101.40" y1="1000.30" x2="112.40" y2="1000.30" stroke="#000" stroke-width="3" />
<text x="80.8" y="1011.8" font-size="36.5" text-anchor="end" fill="#000" >0.2</text>
<line x1="101.40" y1="923.00" x2="112.40" y2="923.00" stroke="#000" stroke-width="3" />
<text x="80.8" y="934.5" font-size="36.5" text-anchor="end" fill="#000" >0.4</text>
<line x1="101.40" y1="845.70" x2="112.40" y2="845.70" stroke="#000" stroke-width="3" />
<text x="80.8" y="857.2" font-size="36.5" text-anchor="end" fill="#000" >0.6</text>
<line x1="101.40" y1="768.40" x2="112.40" y2="768.40" stroke="#000" stroke-width="3" />
<text x="80.8" y="779.9" font-size="36.5" text-anchor="end" fill="#000" >0.8</text>
<line x1="101.40" y1="691.10" x2="112.40" y2="691.10" stroke="#000" stroke-width="3" />
<text x="80.8" y="702.6" font-size="36.5" text-anchor="end" fill="#000" >1</text>
<line x1="101.40" y1="613.80" x2="112.40" y2="613.80" stroke="#000" stroke-width="3" />
<text x="80.8" y="625.3" font-size="36.5" text-anchor="end" fill="#000" >1.2</text>
<line x1="112.40" y1="1077.60" x2="112.40" y2="1088.60" stroke="#000" stroke-width="3" />
<text x="112.4" y="1131.8" font-size="36.5" text-anchor="middle" fill="#000" >250</text>
<line x1="238.98" y1="1077.60" x2="238.98" y2="1088.60" stroke="#000" stroke-width="3" />
<text x="239.0" y="1131.8" font-size="36.5" text-anchor="middle" fill="#000" >350</text>
<line x1="365.56" y1="1077.60" x2="365.56" y2="1088.60" stroke="#000" stroke-width="3" />
<text x="365.6" y="1131.8" font-size="36.5" text-anchor="middle" fill="#000" >450</text>
<line x1="492.15" y1="1077.60" x2="492.15" y2="1088.60" stroke="#000" stroke-width="3" />
<text x="492.1" y="1131.8" font-size="36.5" text-anchor="middle" fill="#000" >550</text>
<line x1="618.73" y1="1077.60" x2="618.73" y2="1088.60" stroke="#000" stroke-width="3" />
<text x="618.7" y="1131.8" font-size="36.5" text-anchor="middle" fill="#000" >650</text>
<line x1="745.31" y1="1077.60" x2="745.31" y2="1088.60" stroke="#000" stroke-width="3" />
<text x="745.3" y="1131.8" font-size="36.5" text-anchor="middle" fill="#000" >750</text>
<text x="460.0" y="1167.0" font-size="36" font-weight="bold" text-anchor="middle" fill="#000" >Wavelength (nm)</text>
<text transform="translate(25,845.5) rotate(-90)" font-size="36.7" font-weight="bold" text-anchor="middle">PL intensity (a.u)</text>
<text x="327.5" y="841.0" font-size="44" text-anchor="middle" fill="#000" >(c)</text>
<line x1="560.30" y1="653.80" x2="617.20" y2="653.80" stroke="#4f81bd" stroke-width="3.2" />
<text x="645.5" y="664.7" font-size="37" text-anchor="start" fill="#000" >ZnO</text>
<line x1="560.30" y1="696.60" x2="617.20" y2="696.60" stroke="#ff0000" stroke-width="3.2" />
<text x="645.5" y="706.5" font-size="37" text-anchor="start" fill="#000" >Fe<tspan font-size="26" dy="8">3</tspan><tspan dy="-8">O</tspan><tspan font-size="26" dy="8">4</tspan></text>
<line x1="560.30" y1="740.00" x2="617.20" y2="740.00" stroke="#00b050" stroke-width="3.2" />
<text x="645.5" y="747.7" font-size="37" text-anchor="start" fill="#000" >Fe-ZnO</text>
<line x1="976.20" y1="613.20" x2="976.20" y2="1079.10" stroke="#000" stroke-width="3" />
<line x1="974.70" y1="1077.60" x2="1686.70" y2="1077.60" stroke="#000" stroke-width="3" />
<line x1="965.20" y1="613.20" x2="1686.70" y2="613.20" stroke="#000" stroke-width="3" />
<line x1="1685.20" y1="611.70" x2="1685.20" y2="1088.60" stroke="#000" stroke-width="3" />
<line x1="965.20" y1="1077.60" x2="976.20" y2="1077.60" stroke="#000" stroke-width="3" />
<text x="945.3" y="1089.4" font-size="36.5" text-anchor="end" fill="#000" >0</text>
<line x1="965.20" y1="984.72" x2="976.20" y2="984.72" stroke="#000" stroke-width="3" />
<text x="945.3" y="996.5" font-size="36.5" text-anchor="end" fill="#000" >20</text>
<line x1="965.20" y1="891.84" x2="976.20" y2="891.84" stroke="#000" stroke-width="3" />
<text x="945.3" y="903.6" font-size="36.5" text-anchor="end" fill="#000" >40</text>
<line x1="965.20" y1="798.96" x2="976.20" y2="798.96" stroke="#000" stroke-width="3" />
<text x="945.3" y="810.8" font-size="36.5" text-anchor="end" fill="#000" >60</text>
<line x1="965.20" y1="706.08" x2="976.20" y2="706.08" stroke="#000" stroke-width="3" />
<text x="945.3" y="717.9" font-size="36.5" text-anchor="end" fill="#000" >80</text>
<line x1="965.20" y1="613.20" x2="976.20" y2="613.20" stroke="#000" stroke-width="3" />
<text x="945.3" y="625.0" font-size="36.5" text-anchor="end" fill="#000" >100</text>
<line x1="976.20" y1="1077.60" x2="976.20" y2="1088.60" stroke="#000" stroke-width="3" />
<text x="976.2" y="1129.8" font-size="36.5" text-anchor="middle" fill="#000" >0</text>
<line x1="1212.53" y1="1077.60" x2="1212.53" y2="1088.60" stroke="#000" stroke-width="3" />
<text x="1212.5" y="1129.8" font-size="36.5" text-anchor="middle" fill="#000" >100</text>
<line x1="1448.87" y1="1077.60" x2="1448.87" y2="1088.60" stroke="#000" stroke-width="3" />
<text x="1448.9" y="1129.8" font-size="36.5" text-anchor="middle" fill="#000" >200</text>
<line x1="1685.20" y1="1077.60" x2="1685.20" y2="1088.60" stroke="#000" stroke-width="3" />
<text x="1685.2" y="1129.8" font-size="36.5" text-anchor="middle" fill="#000" >300</text>
<text x="1330.0" y="1167.0" font-size="36" font-weight="bold" text-anchor="middle" fill="#000" >Z' (Ohm)</text>
<text transform="translate(902.3,869.5) rotate(-90)" font-size="36" font-weight="bold" text-anchor="middle">Z'' (Ohm)</text>
<text x="1073.4" y="715.0" font-size="46" text-anchor="middle" fill="#000" >(d)</text>
<polyline points="979.00,1010.00 979.35,1009.61 979.78,1009.11 980.30,1008.51 980.87,1007.84 981.50,1007.12 982.17,1006.38 982.86,1005.62 983.58,1004.87 984.29,1004.16 985.00,1003.50 985.71,1002.88 986.44,1002.25 987.19,1001.63 987.96,1001.02 988.75,1000.41 989.56,999.80 990.39,999.21 991.24,998.63 992.11,998.06 993.00,997.50 993.91,996.95 994.86,996.40 995.82,995.86 996.81,995.33 997.81,994.81 998.83,994.31 999.86,993.82 1000.90,993.36 1001.95,992.91 1003.00,992.50 1004.06,992.11 1005.14,991.74 1006.23,991.39 1007.33,991.06 1008.44,990.75 1009.55,990.46 1010.67,990.19 1011.78,989.94 1012.90,989.71 1014.00,989.50 1015.10,989.31 1016.20,989.14 1017.30,988.99 1018.40,988.86 1019.50,988.75 1020.60,988.66 1021.70,988.59 1022.80,988.54 1023.90,988.51 1025.00,988.50 1026.10,988.51 1027.22,988.54 1028.33,988.59 1029.45,988.66 1030.56,988.75 1031.67,988.86 1032.77,988.99 1033.86,989.14 1034.94,989.31 1036.00,989.50 1037.04,989.71 1038.06,989.94 1039.07,990.19 1040.07,990.46 1041.06,990.75 1042.05,991.06 1043.03,991.39 1044.02,991.74 1045.00,992.11 1046.00,992.50 1047.00,992.92 1048.00,993.36 1049.00,993.84 1050.00,994.33 1051.00,994.84 1052.00,995.37 1053.00,995.90 1054.00,996.44 1055.00,996.97 1056.00,997.50 1057.00,998.03 1058.00,998.57 1059.00,999.11 1060.00,999.66 1061.00,1000.22 1062.00,1000.78 1063.00,1001.33 1064.00,1001.89 1065.00,1002.45 1066.00,1003.00 1067.00,1003.56 1068.00,1004.12 1069.00,1004.70 1070.00,1005.27 1071.00,1005.84 1072.00,1006.41 1073.00,1006.96 1074.00,1007.50 1075.00,1008.01 1076.00,1008.50 1077.01,1008.97 1078.05,1009.44 1079.09,1009.89 1080.14,1010.33 1081.19,1010.75 1082.22,1011.15 1083.22,1011.53 1084.19,1011.88 1085.12,1012.21 1086.00,1012.50 1086.82,1012.76 1087.58,1013.01 1088.29,1013.23 1088.97,1013.42 1089.62,1013.59 1090.27,1013.74 1090.92,1013.85 1091.58,1013.93 1092.27,1013.98 1093.00,1014.00 1093.76,1013.99 1094.54,1013.94 1095.33,1013.87 1096.13,1013.76 1096.94,1013.62 1097.75,1013.46 1098.57,1013.26 1099.38,1013.04 1100.20,1012.78 1101.00,1012.50 1101.81,1012.18 1102.63,1011.82 1103.46,1011.42 1104.30,1010.99 1105.12,1010.53 1105.94,1010.05 1106.75,1009.55 1107.53,1009.04 1108.28,1008.52 1109.00,1008.00 1109.69,1007.47 1110.36,1006.91 1111.01,1006.34 1111.64,1005.76 1112.25,1005.16 1112.84,1004.54 1113.41,1003.92 1113.96,1003.29 1114.49,1002.65 1115.00,1002.00 1115.49,1001.35 1115.95,1000.68 1116.39,1000.00 1116.82,999.32 1117.22,998.62 1117.60,997.92 1117.97,997.21 1118.33,996.48 1118.67,995.75 1119.00,995.00 1119.32,994.20 1119.64,993.34 1119.94,992.42 1120.23,991.49 1120.50,990.56 1120.75,989.67 1120.98,988.84 1121.18,988.10 1121.36,987.48 1121.50,987.00" fill="none" stroke="#0070c0" stroke-width="2.6" stroke-linejoin="round" />
<polyline points="1121.50,987.00 1123.30,982.10 1131.50,973.50 1138.60,961.70 1144.70,945.40 1153.90,934.60 1162.60,919.30 1173.80,899.40 1183.50,881.00 1197.80,856.40 1213.00,830.60 1230.80,804.00 1250.60,776.40 1272.10,745.70 1295.80,712.50 1322.70,683.30 1350.30,647.30" fill="none" stroke="#0070c0" stroke-width="2.6" stroke-linejoin="round" />
<circle cx="979.0" cy="1009.6" r="5.5" fill="none" stroke="#0070c0" stroke-width="2.7"/>
<circle cx="980.6" cy="1008.2" r="5.5" fill="none" stroke="#0070c0" stroke-width="2.7"/>
<circle cx="981.6" cy="1006.9" r="5.5" fill="none" stroke="#0070c0" stroke-width="2.7"/>
<circle cx="983.4" cy="1004.5" r="5.5" fill="none" stroke="#0070c0" stroke-width="2.7"/>
<circle cx="985.1" cy="1002.8" r="5.5" fill="none" stroke="#0070c0" stroke-width="2.7"/>
<circle cx="986.5" cy="1002.2" r="5.5" fill="none" stroke="#0070c0" stroke-width="2.7"/>
<circle cx="988.3" cy="1000.9" r="5.5" fill="none" stroke="#0070c0" stroke-width="2.7"/>
<circle cx="990.3" cy="1000.0" r="5.5" fill="none" stroke="#0070c0" stroke-width="2.7"/>
<circle cx="991.7" cy="998.5" r="5.5" fill="none" stroke="#0070c0" stroke-width="2.7"/>
<circle cx="994.0" cy="996.6" r="5.5" fill="none" stroke="#0070c0" stroke-width="2.7"/>
<circle cx="995.3" cy="996.9" r="5.5" fill="none" stroke="#0070c0" stroke-width="2.7"/>
<circle cx="997.5" cy="994.7" r="5.5" fill="none" stroke="#0070c0" stroke-width="2.7"/>
<circle cx="1000.0" cy="993.9" r="5.5" fill="none" stroke="#0070c0" stroke-width="2.7"/>
<circle cx="1001.6" cy="993.5" r="5.5" fill="none" stroke="#0070c0" stroke-width="2.7"/>
<circle cx="1003.3" cy="992.7" r="5.5" fill="none" stroke="#0070c0" stroke-width="2.7"/>
<circle cx="1005.7" cy="990.9" r="5.5" fill="none" stroke="#0070c0" stroke-width="2.7"/>
<circle cx="1008.0" cy="991.6" r="5.5" fill="none" stroke="#0070c0" stroke-width="2.7"/>
<circle cx="1009.7" cy="990.6" r="5.5" fill="none" stroke="#0070c0" stroke-width="2.7"/>
<circle cx="1012.0" cy="990.3" r="5.5" fill="none" stroke="#0070c0" stroke-width="2.7"/>
<circle cx="1014.5" cy="989.0" r="5.5" fill="none" stroke="#0070c0" stroke-width="2.7"/>
<circle cx="1016.8" cy="989.3" r="5.5" fill="none" stroke="#0070c0" stroke-width="2.7"/>
<circle cx="1018.9" cy="989.3" r="5.5" fill="none" stroke="#0070c0" stroke-width="2.7"/>
<circle cx="1020.8" cy="989.1" r="5.5" fill="none" stroke="#0070c0" stroke-width="2.7"/>
<circle cx="1023.4" cy="987.9" r="5.5" fill="none" stroke="#0070c0" stroke-width="2.7"/>
<circle cx="1025.6" cy="988.3" r="5.5" fill="none" stroke="#0070c0" stroke-width="2.7"/>
<circle cx="1027.4" cy="988.0" r="5.5" fill="none" stroke="#0070c0" stroke-width="2.7"/>
<circle cx="1029.9" cy="988.4" r="5.5" fill="none" stroke="#0070c0" stroke-width="2.7"/>
<circle cx="1032.2" cy="988.6" r="5.5" fill="none" stroke="#0070c0" stroke-width="2.7"/>
<circle cx="1034.1" cy="989.0" r="5.5" fill="none" stroke="#0070c0" stroke-width="2.7"/>
<circle cx="1036.3" cy="989.1" r="5.5" fill="none" stroke="#0070c0" stroke-width="2.7"/>
<circle cx="1038.0" cy="990.3" r="5.5" fill="none" stroke="#0070c0" stroke-width="2.7"/>
<circle cx="1040.7" cy="990.8" r="5.5" fill="none" stroke="#0070c0" stroke-width="2.7"/>
<circle cx="1043.0" cy="990.9" r="5.5" fill="none" stroke="#0070c0" stroke-width="2.7"/>
<circle cx="1045.0" cy="991.6" r="5.5" fill="none" stroke="#0070c0" stroke-width="2.7"/>
<circle cx="1047.1" cy="993.2" r="5.5" fill="none" stroke="#0070c0" stroke-width="2.7"/>
<circle cx="1048.8" cy="994.5" r="5.5" fill="none" stroke="#0070c0" stroke-width="2.7"/>
<circle cx="1050.9" cy="995.3" r="5.5" fill="none" stroke="#0070c0" stroke-width="2.7"/>
<circle cx="1052.2" cy="995.3" r="5.5" fill="none" stroke="#0070c0" stroke-width="2.7"/>
<circle cx="1054.2" cy="996.0" r="5.5" fill="none" stroke="#0070c0" stroke-width="2.7"/>
<circle cx="1056.2" cy="998.2" r="5.5" fill="none" stroke="#0070c0" stroke-width="2.7"/>
<circle cx="1058.1" cy="998.3" r="5.5" fill="none" stroke="#0070c0" stroke-width="2.7"/>
<circle cx="1060.4" cy="1000.4" r="5.5" fill="none" stroke="#0070c0" stroke-width="2.7"/>
<circle cx="1062.7" cy="1001.5" r="5.5" fill="none" stroke="#0070c0" stroke-width="2.7"/>
<circle cx="1064.0" cy="1001.9" r="5.5" fill="none" stroke="#0070c0" stroke-width="2.7"/>
<circle cx="1066.3" cy="1002.5" r="5.5" fill="none" stroke="#0070c0" stroke-width="2.7"/>
<circle cx="1068.2" cy="1004.0" r="5.5" fill="none" stroke="#0070c0" stroke-width="2.7"/>
<circle cx="1070.0" cy="1005.6" r="5.5" fill="none" stroke="#0070c0" stroke-width="2.7"/>
<circle cx="1072.0" cy="1006.5" r="5.5" fill="none" stroke="#0070c0" stroke-width="2.7"/>
<circle cx="1073.8" cy="1006.9" r="5.5" fill="none" stroke="#0070c0" stroke-width="2.7"/>
<circle cx="1075.8" cy="1007.8" r="5.5" fill="none" stroke="#0070c0" stroke-width="2.7"/>
<circle cx="1077.7" cy="1009.4" r="5.5" fill="none" stroke="#0070c0" stroke-width="2.7"/>
<circle cx="1080.0" cy="1010.1" r="5.5" fill="none" stroke="#0070c0" stroke-width="2.7"/>
<circle cx="1081.4" cy="1010.9" r="5.5" fill="none" stroke="#0070c0" stroke-width="2.7"/>
<circle cx="1083.6" cy="1012.1" r="5.5" fill="none" stroke="#0070c0" stroke-width="2.7"/>
<circle cx="1085.8" cy="1012.3" r="5.5" fill="none" stroke="#0070c0" stroke-width="2.7"/>
<circle cx="1088.4" cy="1013.1" r="5.5" fill="none" stroke="#0070c0" stroke-width="2.7"/>
<circle cx="1090.0" cy="1013.4" r="5.5" fill="none" stroke="#0070c0" stroke-width="2.7"/>
<circle cx="1092.3" cy="1013.3" r="5.5" fill="none" stroke="#0070c0" stroke-width="2.7"/>
<circle cx="1094.6" cy="1014.6" r="5.5" fill="none" stroke="#0070c0" stroke-width="2.7"/>
<circle cx="1096.8" cy="1014.0" r="5.5" fill="none" stroke="#0070c0" stroke-width="2.7"/>
<circle cx="1099.3" cy="1013.6" r="5.5" fill="none" stroke="#0070c0" stroke-width="2.7"/>
<circle cx="1101.2" cy="1012.9" r="5.5" fill="none" stroke="#0070c0" stroke-width="2.7"/>
<circle cx="1103.3" cy="1011.1" r="5.5" fill="none" stroke="#0070c0" stroke-width="2.7"/>
<circle cx="1104.9" cy="1010.4" r="5.5" fill="none" stroke="#0070c0" stroke-width="2.7"/>
<circle cx="1106.6" cy="1009.7" r="5.5" fill="none" stroke="#0070c0" stroke-width="2.7"/>
<circle cx="1108.5" cy="1008.6" r="5.5" fill="none" stroke="#0070c0" stroke-width="2.7"/>
<circle cx="1110.4" cy="1006.2" r="5.5" fill="none" stroke="#0070c0" stroke-width="2.7"/>
<circle cx="1112.0" cy="1005.3" r="5.5" fill="none" stroke="#0070c0" stroke-width="2.7"/>
<circle cx="1113.6" cy="1003.0" r="5.5" fill="none" stroke="#0070c0" stroke-width="2.7"/>
<circle cx="1114.7" cy="1002.4" r="5.5" fill="none" stroke="#0070c0" stroke-width="2.7"/>
<circle cx="1116.1" cy="1000.7" r="5.5" fill="none" stroke="#0070c0" stroke-width="2.7"/>
<circle cx="1117.2" cy="998.1" r="5.5" fill="none" stroke="#0070c0" stroke-width="2.7"/>
<circle cx="1118.5" cy="995.7" r="5.5" fill="none" stroke="#0070c0" stroke-width="2.7"/>
<circle cx="1119.1" cy="994.4" r="5.5" fill="none" stroke="#0070c0" stroke-width="2.7"/>
<circle cx="1119.9" cy="992.1" r="5.5" fill="none" stroke="#0070c0" stroke-width="2.7"/>
<circle cx="1120.6" cy="990.9" r="5.5" fill="none" stroke="#0070c0" stroke-width="2.7"/>
<circle cx="1121.1" cy="988.4" r="5.5" fill="none" stroke="#0070c0" stroke-width="2.7"/>
<circle cx="1123.3" cy="982.1" r="5.5" fill="none" stroke="#0070c0" stroke-width="2.7"/>
<circle cx="1131.5" cy="973.5" r="5.5" fill="none" stroke="#0070c0" stroke-width="2.7"/>
<circle cx="1138.6" cy="961.7" r="5.5" fill="none" stroke="#0070c0" stroke-width="2.7"/>
<circle cx="1144.7" cy="945.4" r="5.5" fill="none" stroke="#0070c0" stroke-width="2.7"/>
<circle cx="1153.9" cy="934.6" r="5.5" fill="none" stroke="#0070c0" stroke-width="2.7"/>
<circle cx="1162.6" cy="919.3" r="5.5" fill="none" stroke="#0070c0" stroke-width="2.7"/>
<circle cx="1173.8" cy="899.4" r="5.5" fill="none" stroke="#0070c0" stroke-width="2.7"/>
<circle cx="1183.5" cy="881.0" r="5.5" fill="none" stroke="#0070c0" stroke-width="2.7"/>
<circle cx="1197.8" cy="856.4" r="5.5" fill="none" stroke="#0070c0" stroke-width="2.7"/>
<circle cx="1213.0" cy="830.6" r="5.5" fill="none" stroke="#0070c0" stroke-width="2.7"/>
<circle cx="1230.8" cy="804.0" r="5.5" fill="none" stroke="#0070c0" stroke-width="2.7"/>
<circle cx="1250.6" cy="776.4" r="5.5" fill="none" stroke="#0070c0" stroke-width="2.7"/>
<circle cx="1272.1" cy="745.7" r="5.5" fill="none" stroke="#0070c0" stroke-width="2.7"/>
<circle cx="1295.8" cy="712.5" r="5.5" fill="none" stroke="#0070c0" stroke-width="2.7"/>
<circle cx="1322.7" cy="683.3" r="5.5" fill="none" stroke="#0070c0" stroke-width="2.7"/>
<circle cx="1350.3" cy="647.3" r="5.5" fill="none" stroke="#0070c0" stroke-width="2.7"/>
<polyline points="976.50,1011.90 979.00,1011.90 983.00,1011.90 988.00,1011.50 996.20,1009.50 1006.70,1005.30 1019.50,1000.50 1033.80,995.80 1050.90,992.70 1069.80,989.80 1090.50,988.10 1110.60,988.10 1131.20,988.10 1149.50,989.50 1165.40,992.30 1179.40,996.00 1191.60,999.80 1201.60,1003.50 1211.00,1007.40 1216.60,1009.10 1229.90,1011.90 1240.90,1012.40 1252.00,1011.90 1262.00,1009.10 1269.70,1006.30 1278.60,999.70 1285.80,1003.00 1290.20,987.50 1301.80,983.10 1315.10,973.10 1321.80,960.90 1335.60,944.90 1347.00,934.00 1362.40,918.30 1376.10,898.30 1392.40,877.40 1409.30,855.60 1427.40,830.20 1447.90,804.50 1469.60,776.00 1493.30,744.80 1518.90,712.10 1547.50,682.70 1577.60,646.90" fill="none" stroke="#ff0000" stroke-width="2.6" stroke-linejoin="round" />
<rect x="970.9" y="1006.3" width="11.2" height="11.2" fill="none" stroke="#ff0000" stroke-width="2.7"/>
<rect x="973.4" y="1006.3" width="11.2" height="11.2" fill="none" stroke="#ff0000" stroke-width="2.7"/>
<rect x="977.4" y="1006.3" width="11.2" height="11.2" fill="none" stroke="#ff0000" stroke-width="2.7"/>
<rect x="982.4" y="1005.9" width="11.2" height="11.2" fill="none" stroke="#ff0000" stroke-width="2.7"/>
<rect x="990.6" y="1003.9" width="11.2" height="11.2" fill="none" stroke="#ff0000" stroke-width="2.7"/>
<rect x="1001.1" y="999.7" width="11.2" height="11.2" fill="none" stroke="#ff0000" stroke-width="2.7"/>
<rect x="1013.9" y="994.9" width="11.2" height="11.2" fill="none" stroke="#ff0000" stroke-width="2.7"/>
<rect x="1028.2" y="990.2" width="11.2" height="11.2" fill="none" stroke="#ff0000" stroke-width="2.7"/>
<rect x="1045.3" y="987.1" width="11.2" height="11.2" fill="none" stroke="#ff0000" stroke-width="2.7"/>
<rect x="1064.2" y="984.2" width="11.2" height="11.2" fill="none" stroke="#ff0000" stroke-width="2.7"/>
<rect x="1084.9" y="982.5" width="11.2" height="11.2" fill="none" stroke="#ff0000" stroke-width="2.7"/>
<rect x="1105.0" y="982.5" width="11.2" height="11.2" fill="none" stroke="#ff0000" stroke-width="2.7"/>
<rect x="1125.6" y="982.5" width="11.2" height="11.2" fill="none" stroke="#ff0000" stroke-width="2.7"/>
<rect x="1143.9" y="983.9" width="11.2" height="11.2" fill="none" stroke="#ff0000" stroke-width="2.7"/>
<rect x="1159.8" y="986.7" width="11.2" height="11.2" fill="none" stroke="#ff0000" stroke-width="2.7"/>
<rect x="1173.8" y="990.4" width="11.2" height="11.2" fill="none" stroke="#ff0000" stroke-width="2.7"/>
<rect x="1186.0" y="994.2" width="11.2" height="11.2" fill="none" stroke="#ff0000" stroke-width="2.7"/>
<rect x="1196.0" y="997.9" width="11.2" height="11.2" fill="none" stroke="#ff0000" stroke-width="2.7"/>
<rect x="1205.4" y="1001.8" width="11.2" height="11.2" fill="none" stroke="#ff0000" stroke-width="2.7"/>
<rect x="1211.0" y="1003.5" width="11.2" height="11.2" fill="none" stroke="#ff0000" stroke-width="2.7"/>
<rect x="1224.3" y="1006.3" width="11.2" height="11.2" fill="none" stroke="#ff0000" stroke-width="2.7"/>
<rect x="1235.3" y="1006.8" width="11.2" height="11.2" fill="none" stroke="#ff0000" stroke-width="2.7"/>
<rect x="1246.4" y="1006.3" width="11.2" height="11.2" fill="none" stroke="#ff0000" stroke-width="2.7"/>
<rect x="1256.4" y="1003.5" width="11.2" height="11.2" fill="none" stroke="#ff0000" stroke-width="2.7"/>
<rect x="1264.1" y="1000.7" width="11.2" height="11.2" fill="none" stroke="#ff0000" stroke-width="2.7"/>
<rect x="1273.0" y="994.1" width="11.2" height="11.2" fill="none" stroke="#ff0000" stroke-width="2.7"/>
<rect x="1280.2" y="997.4" width="11.2" height="11.2" fill="none" stroke="#ff0000" stroke-width="2.7"/>
<rect x="1284.6" y="981.9" width="11.2" height="11.2" fill="none" stroke="#ff0000" stroke-width="2.7"/>
<rect x="1296.2" y="977.5" width="11.2" height="11.2" fill="none" stroke="#ff0000" stroke-width="2.7"/>
<rect x="1309.5" y="967.5" width="11.2" height="11.2" fill="none" stroke="#ff0000" stroke-width="2.7"/>
<rect x="1316.2" y="955.3" width="11.2" height="11.2" fill="none" stroke="#ff0000" stroke-width="2.7"/>
<rect x="1330.0" y="939.3" width="11.2" height="11.2" fill="none" stroke="#ff0000" stroke-width="2.7"/>
<rect x="1341.4" y="928.4" width="11.2" height="11.2" fill="none" stroke="#ff0000" stroke-width="2.7"/>
<rect x="1356.8" y="912.7" width="11.2" height="11.2" fill="none" stroke="#ff0000" stroke-width="2.7"/>
<rect x="1370.5" y="892.7" width="11.2" height="11.2" fill="none" stroke="#ff0000" stroke-width="2.7"/>
<rect x="1386.8" y="871.8" width="11.2" height="11.2" fill="none" stroke="#ff0000" stroke-width="2.7"/>
<rect x="1403.7" y="850.0" width="11.2" height="11.2" fill="none" stroke="#ff0000" stroke-width="2.7"/>
<rect x="1421.8" y="824.6" width="11.2" height="11.2" fill="none" stroke="#ff0000" stroke-width="2.7"/>
<rect x="1442.3" y="798.9" width="11.2" height="11.2" fill="none" stroke="#ff0000" stroke-width="2.7"/>
<rect x="1464.0" y="770.4" width="11.2" height="11.2" fill="none" stroke="#ff0000" stroke-width="2.7"/>
<rect x="1487.7" y="739.2" width="11.2" height="11.2" fill="none" stroke="#ff0000" stroke-width="2.7"/>
<rect x="1513.3" y="706.5" width="11.2" height="11.2" fill="none" stroke="#ff0000" stroke-width="2.7"/>
<rect x="1541.9" y="677.1" width="11.2" height="11.2" fill="none" stroke="#ff0000" stroke-width="2.7"/>
<rect x="1572.0" y="641.3" width="11.2" height="11.2" fill="none" stroke="#ff0000" stroke-width="2.7"/>
<line x1="1470.30" y1="927.70" x2="1550.30" y2="927.70" stroke="#0070c0" stroke-width="2.6" />
<circle cx="1510" cy="927.7" r="5.9" fill="none" stroke="#0070c0" stroke-width="2.7"/>
<line x1="1470.30" y1="975.40" x2="1550.30" y2="975.40" stroke="#ff0000" stroke-width="2.6" />
<rect x="1504.4" y="969.8" width="11.2" height="11.2" fill="none" stroke="#ff0000" stroke-width="2.7"/>
<text x="1556.0" y="937.4" font-size="37" text-anchor="start" fill="#000" >ZnO</text>
<text x="1556.0" y="985.1" font-size="37" text-anchor="start" fill="#000" >Fe-ZnO</text>
</svg>
</body></html>
